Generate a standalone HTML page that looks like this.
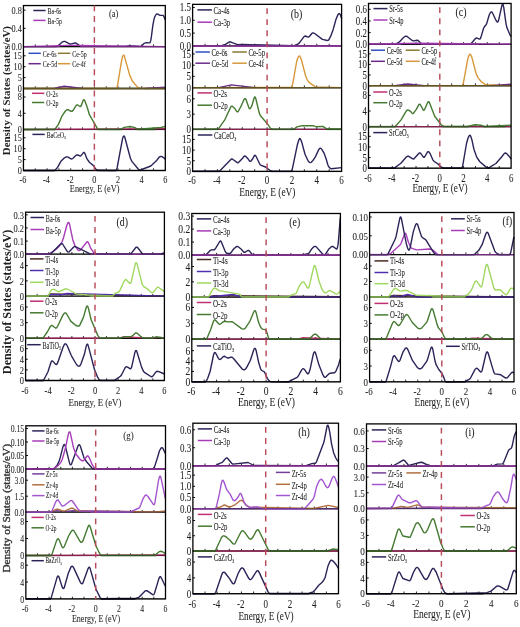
<!DOCTYPE html>
<html><head><meta charset="utf-8"><style>
html,body{margin:0;padding:0;background:#fff;}
svg{display:block;filter:blur(0.3px);}
text{font-family:"Liberation Serif", "DejaVu Serif", serif;fill:#1e1e1e;stroke:#1e1e1e;stroke-width:0.06px;}
.yt{}
.xt{}
.lg{stroke-width:0.08px;}
.xl{}
.pl{}
.yl{font-weight:bold;stroke-width:0;}
</style></head><body>
<svg xmlns="http://www.w3.org/2000/svg" width="520" height="627" viewBox="0 0 520 627">
<rect width="520" height="627" fill="#fff"/>
<line x1="23.45" y1="46.60" x2="25.65" y2="46.60" stroke="#111" stroke-width="1"/>
<text transform="translate(21.85,50.00) scale(0.8,1)" class="yt" font-size="10.3" text-anchor="end">0.0</text>
<line x1="23.45" y1="28.36" x2="25.65" y2="28.36" stroke="#111" stroke-width="1"/>
<text transform="translate(21.85,31.75) scale(0.8,1)" class="yt" font-size="10.3" text-anchor="end">0.4</text>
<line x1="23.45" y1="10.11" x2="25.65" y2="10.11" stroke="#111" stroke-width="1"/>
<text transform="translate(21.85,13.51) scale(0.8,1)" class="yt" font-size="10.3" text-anchor="end">0.8</text>
<line x1="35.27" y1="46.60" x2="35.27" y2="44.40" stroke="#111" stroke-width="0.9"/>
<line x1="47.09" y1="46.60" x2="47.09" y2="44.40" stroke="#111" stroke-width="0.9"/>
<line x1="58.91" y1="46.60" x2="58.91" y2="44.40" stroke="#111" stroke-width="0.9"/>
<line x1="70.73" y1="46.60" x2="70.73" y2="44.40" stroke="#111" stroke-width="0.9"/>
<line x1="82.55" y1="46.60" x2="82.55" y2="44.40" stroke="#111" stroke-width="0.9"/>
<line x1="94.38" y1="46.60" x2="94.38" y2="44.40" stroke="#111" stroke-width="0.9"/>
<line x1="106.20" y1="46.60" x2="106.20" y2="44.40" stroke="#111" stroke-width="0.9"/>
<line x1="118.02" y1="46.60" x2="118.02" y2="44.40" stroke="#111" stroke-width="0.9"/>
<line x1="129.84" y1="46.60" x2="129.84" y2="44.40" stroke="#111" stroke-width="0.9"/>
<line x1="141.66" y1="46.60" x2="141.66" y2="44.40" stroke="#111" stroke-width="0.9"/>
<line x1="153.48" y1="46.60" x2="153.48" y2="44.40" stroke="#111" stroke-width="0.9"/>
<line x1="23.45" y1="46.60" x2="165.30" y2="46.60" stroke="#111" stroke-width="1.2"/>
<path d="M23.4,46.6 L56.0,46.5 L58.6,45.4 L62.2,42.1 L63.9,41.4 L64.8,41.4 L69.6,43.9 L71.3,43.9 L75.2,43.0 L76.1,43.1 L80.2,46.1 L125.4,46.4 L129.5,45.7 L140.8,46.4 L141.7,46.0 L144.0,43.4 L146.4,42.6 L149.3,42.9 L149.6,42.8 L149.9,42.6 L150.2,42.2 L150.8,40.4 L151.4,36.7 L152.9,24.8 L154.1,18.8 L155.0,16.3 L156.1,14.5 L156.7,14.0 L157.3,13.9 L160.0,15.4 L162.9,15.4 L163.5,15.8 L164.1,16.9 L165.3,19.9" fill="none" stroke="#2a2458" stroke-width="1.4" stroke-linejoin="round"/>
<path d="M23.4,46.6 L68.1,45.4 L76.9,45.4 L165.3,46.6" fill="none" stroke="#a83cb8" stroke-width="1.4" stroke-linejoin="round"/>
<line x1="23.45" y1="46.60" x2="59.80" y2="46.60" stroke="#a83cb8" stroke-width="1.45"/>
<line x1="80.19" y1="46.60" x2="165.30" y2="46.60" stroke="#a83cb8" stroke-width="1.45"/>
<line x1="23.45" y1="46.60" x2="165.30" y2="46.60" stroke="#000" stroke-opacity="0.3" stroke-width="1.3"/>
<line x1="33.30" y1="10.50" x2="45.60" y2="10.50" stroke="#2a2458" stroke-width="1.5"/>
<text transform="translate(47.60,13.84) scale(0.78,1)" class="lg" font-size="7.6">Ba-6s</text>
<line x1="33.30" y1="20.40" x2="45.60" y2="20.40" stroke="#a83cb8" stroke-width="1.5"/>
<text transform="translate(47.60,23.74) scale(0.78,1)" class="lg" font-size="7.6">Ba-5p</text>
<line x1="23.45" y1="88.50" x2="25.65" y2="88.50" stroke="#111" stroke-width="1"/>
<text transform="translate(21.85,91.90) scale(0.8,1)" class="yt" font-size="10.3" text-anchor="end">0</text>
<line x1="23.45" y1="77.59" x2="25.65" y2="77.59" stroke="#111" stroke-width="1"/>
<text transform="translate(21.85,80.99) scale(0.8,1)" class="yt" font-size="10.3" text-anchor="end">5</text>
<line x1="23.45" y1="66.68" x2="25.65" y2="66.68" stroke="#111" stroke-width="1"/>
<text transform="translate(21.85,70.08) scale(0.8,1)" class="yt" font-size="10.3" text-anchor="end">10</text>
<line x1="23.45" y1="55.77" x2="25.65" y2="55.77" stroke="#111" stroke-width="1"/>
<text transform="translate(21.85,59.16) scale(0.8,1)" class="yt" font-size="10.3" text-anchor="end">15</text>
<line x1="35.27" y1="88.50" x2="35.27" y2="86.30" stroke="#111" stroke-width="0.9"/>
<line x1="47.09" y1="88.50" x2="47.09" y2="86.30" stroke="#111" stroke-width="0.9"/>
<line x1="58.91" y1="88.50" x2="58.91" y2="86.30" stroke="#111" stroke-width="0.9"/>
<line x1="70.73" y1="88.50" x2="70.73" y2="86.30" stroke="#111" stroke-width="0.9"/>
<line x1="82.55" y1="88.50" x2="82.55" y2="86.30" stroke="#111" stroke-width="0.9"/>
<line x1="94.38" y1="88.50" x2="94.38" y2="86.30" stroke="#111" stroke-width="0.9"/>
<line x1="106.20" y1="88.50" x2="106.20" y2="86.30" stroke="#111" stroke-width="0.9"/>
<line x1="118.02" y1="88.50" x2="118.02" y2="86.30" stroke="#111" stroke-width="0.9"/>
<line x1="129.84" y1="88.50" x2="129.84" y2="86.30" stroke="#111" stroke-width="0.9"/>
<line x1="141.66" y1="88.50" x2="141.66" y2="86.30" stroke="#111" stroke-width="0.9"/>
<line x1="153.48" y1="88.50" x2="153.48" y2="86.30" stroke="#111" stroke-width="0.9"/>
<line x1="23.45" y1="88.50" x2="165.30" y2="88.50" stroke="#111" stroke-width="1.2"/>
<path d="M23.4,88.5 L165.3,88.5" fill="none" stroke="#3050c0" stroke-width="1.4" stroke-linejoin="round"/>
<path d="M23.4,88.5 L115.9,88.5 L116.5,88.2 L116.8,87.8 L117.4,86.1 L121.6,60.6 L122.4,57.2 L123.0,55.7 L123.3,55.3 L123.6,55.1 L123.9,55.2 L124.2,55.6 L129.8,75.4 L132.2,80.8 L137.5,87.1 L140.5,88.4 L165.3,88.5" fill="none" stroke="#d8983a" stroke-width="1.4" stroke-linejoin="round"/>
<path d="M23.4,88.5 L165.3,88.5" fill="none" stroke="#8a7a30" stroke-width="1.4" stroke-linejoin="round"/>
<path d="M54.2,88.5 L64.2,86.3 L82.6,88.5" fill="none" stroke="#6a2a8a" stroke-width="1.4" stroke-linejoin="round"/>
<path d="M145.2,88.5 L165.3,87.2" fill="none" stroke="#6a2a8a" stroke-width="1.4" stroke-linejoin="round"/>
<line x1="23.45" y1="88.50" x2="165.30" y2="88.50" stroke="#8a7a30" stroke-width="1.45"/>
<line x1="23.45" y1="88.50" x2="165.30" y2="88.50" stroke="#000" stroke-opacity="0.3" stroke-width="1.3"/>
<line x1="28.50" y1="53.30" x2="40.80" y2="53.30" stroke="#3050c0" stroke-width="1.5"/>
<text transform="translate(42.80,56.64) scale(0.78,1)" class="lg" font-size="7.6">Ce-6s</text>
<line x1="58.00" y1="53.30" x2="70.30" y2="53.30" stroke="#8a7a30" stroke-width="1.5"/>
<text transform="translate(72.30,56.64) scale(0.78,1)" class="lg" font-size="7.6">Ce-5p</text>
<line x1="28.50" y1="63.70" x2="40.80" y2="63.70" stroke="#6a2a8a" stroke-width="1.5"/>
<text transform="translate(42.80,67.04) scale(0.78,1)" class="lg" font-size="7.6">Ce-5d</text>
<line x1="58.00" y1="63.70" x2="70.30" y2="63.70" stroke="#d8983a" stroke-width="1.5"/>
<text transform="translate(72.30,67.04) scale(0.78,1)" class="lg" font-size="7.6">Ce-4f</text>
<line x1="23.45" y1="129.50" x2="25.65" y2="129.50" stroke="#111" stroke-width="1"/>
<text transform="translate(21.85,132.90) scale(0.8,1)" class="yt" font-size="10.3" text-anchor="end">0</text>
<line x1="23.45" y1="113.26" x2="25.65" y2="113.26" stroke="#111" stroke-width="1"/>
<text transform="translate(21.85,116.66) scale(0.8,1)" class="yt" font-size="10.3" text-anchor="end">4</text>
<line x1="23.45" y1="97.02" x2="25.65" y2="97.02" stroke="#111" stroke-width="1"/>
<text transform="translate(21.85,100.42) scale(0.8,1)" class="yt" font-size="10.3" text-anchor="end">8</text>
<line x1="35.27" y1="129.50" x2="35.27" y2="127.30" stroke="#111" stroke-width="0.9"/>
<line x1="47.09" y1="129.50" x2="47.09" y2="127.30" stroke="#111" stroke-width="0.9"/>
<line x1="58.91" y1="129.50" x2="58.91" y2="127.30" stroke="#111" stroke-width="0.9"/>
<line x1="70.73" y1="129.50" x2="70.73" y2="127.30" stroke="#111" stroke-width="0.9"/>
<line x1="82.55" y1="129.50" x2="82.55" y2="127.30" stroke="#111" stroke-width="0.9"/>
<line x1="94.38" y1="129.50" x2="94.38" y2="127.30" stroke="#111" stroke-width="0.9"/>
<line x1="106.20" y1="129.50" x2="106.20" y2="127.30" stroke="#111" stroke-width="0.9"/>
<line x1="118.02" y1="129.50" x2="118.02" y2="127.30" stroke="#111" stroke-width="0.9"/>
<line x1="129.84" y1="129.50" x2="129.84" y2="127.30" stroke="#111" stroke-width="0.9"/>
<line x1="141.66" y1="129.50" x2="141.66" y2="127.30" stroke="#111" stroke-width="0.9"/>
<line x1="153.48" y1="129.50" x2="153.48" y2="127.30" stroke="#111" stroke-width="0.9"/>
<line x1="23.45" y1="129.50" x2="165.30" y2="129.50" stroke="#111" stroke-width="1.2"/>
<path d="M23.4,129.5 L165.3,128.7" fill="none" stroke="#c03070" stroke-width="1.4" stroke-linejoin="round"/>
<path d="M23.4,129.5 L54.2,129.4 L55.1,129.0 L58.3,124.6 L61.9,116.2 L65.4,111.0 L66.6,110.0 L67.5,109.7 L68.4,109.8 L71.0,111.3 L71.6,111.3 L72.2,111.2 L73.1,110.3 L76.1,105.6 L76.6,105.1 L77.2,104.9 L77.8,105.0 L79.9,106.5 L80.2,106.6 L80.5,106.5 L80.8,106.3 L81.4,105.2 L83.1,100.5 L83.4,100.1 L83.7,99.8 L84.0,99.8 L84.3,100.0 L84.9,100.9 L87.3,107.5 L89.4,114.7 L97.6,128.8 L98.2,129.3 L120.7,129.4 L124.2,127.4 L130.1,126.5 L134.9,127.6 L137.5,129.3 L161.2,127.5 L165.3,126.3" fill="none" stroke="#457a32" stroke-width="1.4" stroke-linejoin="round"/>
<line x1="23.45" y1="129.50" x2="55.07" y2="129.50" stroke="#457a32" stroke-width="1.45"/>
<line x1="97.92" y1="129.50" x2="121.86" y2="129.50" stroke="#457a32" stroke-width="1.45"/>
<line x1="136.93" y1="129.50" x2="155.25" y2="129.50" stroke="#457a32" stroke-width="1.45"/>
<line x1="23.45" y1="129.50" x2="165.30" y2="129.50" stroke="#000" stroke-opacity="0.3" stroke-width="1.3"/>
<line x1="32.00" y1="93.30" x2="44.30" y2="93.30" stroke="#c03070" stroke-width="1.5"/>
<text transform="translate(46.30,96.64) scale(0.78,1)" class="lg" font-size="7.6">O-2s</text>
<line x1="32.00" y1="102.50" x2="44.30" y2="102.50" stroke="#457a32" stroke-width="1.5"/>
<text transform="translate(46.30,105.84) scale(0.78,1)" class="lg" font-size="7.6">O-2p</text>
<line x1="23.45" y1="170.50" x2="25.65" y2="170.50" stroke="#111" stroke-width="1"/>
<text transform="translate(21.85,173.90) scale(0.8,1)" class="yt" font-size="10.3" text-anchor="end">0</text>
<line x1="23.45" y1="159.60" x2="25.65" y2="159.60" stroke="#111" stroke-width="1"/>
<text transform="translate(21.85,162.99) scale(0.8,1)" class="yt" font-size="10.3" text-anchor="end">5</text>
<line x1="23.45" y1="148.69" x2="25.65" y2="148.69" stroke="#111" stroke-width="1"/>
<text transform="translate(21.85,152.09) scale(0.8,1)" class="yt" font-size="10.3" text-anchor="end">10</text>
<line x1="23.45" y1="137.79" x2="25.65" y2="137.79" stroke="#111" stroke-width="1"/>
<text transform="translate(21.85,141.19) scale(0.8,1)" class="yt" font-size="10.3" text-anchor="end">15</text>
<line x1="35.27" y1="170.50" x2="35.27" y2="168.30" stroke="#111" stroke-width="0.9"/>
<line x1="47.09" y1="170.50" x2="47.09" y2="168.30" stroke="#111" stroke-width="0.9"/>
<line x1="58.91" y1="170.50" x2="58.91" y2="168.30" stroke="#111" stroke-width="0.9"/>
<line x1="70.73" y1="170.50" x2="70.73" y2="168.30" stroke="#111" stroke-width="0.9"/>
<line x1="82.55" y1="170.50" x2="82.55" y2="168.30" stroke="#111" stroke-width="0.9"/>
<line x1="94.38" y1="170.50" x2="94.38" y2="168.30" stroke="#111" stroke-width="0.9"/>
<line x1="106.20" y1="170.50" x2="106.20" y2="168.30" stroke="#111" stroke-width="0.9"/>
<line x1="118.02" y1="170.50" x2="118.02" y2="168.30" stroke="#111" stroke-width="0.9"/>
<line x1="129.84" y1="170.50" x2="129.84" y2="168.30" stroke="#111" stroke-width="0.9"/>
<line x1="141.66" y1="170.50" x2="141.66" y2="168.30" stroke="#111" stroke-width="0.9"/>
<line x1="153.48" y1="170.50" x2="153.48" y2="168.30" stroke="#111" stroke-width="0.9"/>
<path d="M23.4,170.5 L54.2,170.5 L55.1,170.1 L57.7,167.2 L60.7,161.6 L64.5,157.8 L66.3,156.9 L67.5,156.9 L71.0,158.9 L71.9,159.0 L72.8,158.5 L76.1,155.3 L76.9,154.9 L77.8,155.0 L79.9,155.9 L80.5,156.0 L81.1,155.7 L83.4,152.6 L83.7,152.5 L84.0,152.4 L84.3,152.6 L84.9,153.4 L87.0,158.9 L89.6,162.5 L93.2,165.4 L96.1,169.4 L97.6,170.3 L115.7,170.5 L116.2,170.1 L116.5,169.7 L117.1,168.0 L122.4,139.4 L123.0,137.2 L123.3,136.5 L123.6,136.1 L123.9,136.0 L124.2,136.2 L124.8,137.2 L130.4,158.2 L131.9,161.4 L138.4,169.3 L139.3,169.9 L140.5,170.0 L150.8,166.0 L156.1,161.1 L159.1,157.3 L160.0,156.6 L160.9,156.4 L162.3,156.7 L164.1,158.1 L165.3,159.3" fill="none" stroke="#2a2458" stroke-width="1.4" stroke-linejoin="round"/>
<line x1="23.45" y1="170.50" x2="55.37" y2="170.50" stroke="#2a2458" stroke-width="1.45"/>
<line x1="97.03" y1="170.50" x2="116.54" y2="170.50" stroke="#2a2458" stroke-width="1.45"/>
<line x1="139.89" y1="170.50" x2="140.48" y2="170.50" stroke="#2a2458" stroke-width="1.45"/>
<line x1="23.45" y1="170.50" x2="165.30" y2="170.50" stroke="#000" stroke-opacity="0.3" stroke-width="1.3"/>
<line x1="32.40" y1="134.40" x2="44.70" y2="134.40" stroke="#2a2458" stroke-width="1.5"/>
<text transform="translate(46.70,137.74) scale(0.78,1)" class="lg" font-size="7.6">BaCeO<tspan font-size="5" dy="1.5">3</tspan></text>
<rect x="23.45" y="5.55" width="141.85" height="164.95" fill="none" stroke="#000" stroke-width="1.3"/>
<line x1="94.38" y1="5.55" x2="94.38" y2="170.50" stroke="#b84c5a" stroke-width="1.45" stroke-dasharray="6.0 4.65" stroke-dashoffset="0.20"/>
<text transform="translate(22.85,182.60) scale(0.8,1)" class="xt" font-size="10.3" text-anchor="middle">-6</text>
<text transform="translate(46.49,182.60) scale(0.8,1)" class="xt" font-size="10.3" text-anchor="middle">-4</text>
<text transform="translate(70.13,182.60) scale(0.8,1)" class="xt" font-size="10.3" text-anchor="middle">-2</text>
<text transform="translate(94.38,182.60) scale(0.8,1)" class="xt" font-size="10.3" text-anchor="middle">0</text>
<text transform="translate(118.02,182.60) scale(0.8,1)" class="xt" font-size="10.3" text-anchor="middle">2</text>
<text transform="translate(141.66,182.60) scale(0.8,1)" class="xt" font-size="10.3" text-anchor="middle">4</text>
<text transform="translate(165.30,182.60) scale(0.8,1)" class="xt" font-size="10.3" text-anchor="middle">6</text>
<text transform="translate(94.65,191.90) scale(0.78,1)" class="xl" font-size="10.6" text-anchor="middle">Energy, E (eV)</text>
<text transform="translate(113.70,17.00) scale(0.8,1)" class="pl" font-size="10.5" text-anchor="middle">(a)</text>
<text x="0" y="0" class="yl" font-size="10.9" text-anchor="middle" transform="translate(10.40,90.60) rotate(-90)">Density of States (states/eV)</text>
<line x1="192.60" y1="45.90" x2="194.80" y2="45.90" stroke="#111" stroke-width="1"/>
<text transform="translate(191.00,49.93) scale(0.74,1)" class="yt" font-size="12.2" text-anchor="end">0.0</text>
<line x1="192.60" y1="33.08" x2="194.80" y2="33.08" stroke="#111" stroke-width="1"/>
<text transform="translate(191.00,37.10) scale(0.74,1)" class="yt" font-size="12.2" text-anchor="end">0.5</text>
<line x1="192.60" y1="20.25" x2="194.80" y2="20.25" stroke="#111" stroke-width="1"/>
<text transform="translate(191.00,24.28) scale(0.74,1)" class="yt" font-size="12.2" text-anchor="end">1.0</text>
<line x1="192.60" y1="7.43" x2="194.80" y2="7.43" stroke="#111" stroke-width="1"/>
<text transform="translate(191.00,11.45) scale(0.74,1)" class="yt" font-size="12.2" text-anchor="end">1.5</text>
<line x1="205.02" y1="45.90" x2="205.02" y2="43.70" stroke="#111" stroke-width="0.9"/>
<line x1="217.43" y1="45.90" x2="217.43" y2="43.70" stroke="#111" stroke-width="0.9"/>
<line x1="229.85" y1="45.90" x2="229.85" y2="43.70" stroke="#111" stroke-width="0.9"/>
<line x1="242.27" y1="45.90" x2="242.27" y2="43.70" stroke="#111" stroke-width="0.9"/>
<line x1="254.68" y1="45.90" x2="254.68" y2="43.70" stroke="#111" stroke-width="0.9"/>
<line x1="267.10" y1="45.90" x2="267.10" y2="43.70" stroke="#111" stroke-width="0.9"/>
<line x1="279.52" y1="45.90" x2="279.52" y2="43.70" stroke="#111" stroke-width="0.9"/>
<line x1="291.93" y1="45.90" x2="291.93" y2="43.70" stroke="#111" stroke-width="0.9"/>
<line x1="304.35" y1="45.90" x2="304.35" y2="43.70" stroke="#111" stroke-width="0.9"/>
<line x1="316.77" y1="45.90" x2="316.77" y2="43.70" stroke="#111" stroke-width="0.9"/>
<line x1="329.18" y1="45.90" x2="329.18" y2="43.70" stroke="#111" stroke-width="0.9"/>
<line x1="192.60" y1="45.90" x2="341.60" y2="45.90" stroke="#111" stroke-width="1.2"/>
<path d="M192.6,45.9 L221.5,45.7 L225.5,44.3 L228.9,42.1 L230.2,41.8 L237.6,44.6 L242.3,44.5 L293.5,45.8 L297.8,44.1 L299.4,42.9 L304.0,36.7 L304.7,36.2 L305.3,36.0 L308.1,37.1 L308.7,37.0 L309.6,36.2 L311.8,33.5 L312.4,33.0 L313.0,32.9 L314.3,33.3 L322.4,39.4 L327.3,40.5 L327.9,40.4 L328.6,40.1 L330.7,36.2 L333.2,29.4 L336.0,19.3 L337.9,14.9 L338.5,14.0 L338.8,13.7 L339.1,13.6 L339.4,13.6 L339.7,13.9 L340.4,14.8 L341.6,18.5" fill="none" stroke="#2a2458" stroke-width="1.4" stroke-linejoin="round"/>
<path d="M192.6,45.9 L341.6,45.9" fill="none" stroke="#a83cb8" stroke-width="1.4" stroke-linejoin="round"/>
<line x1="192.60" y1="45.90" x2="226.13" y2="45.90" stroke="#a83cb8" stroke-width="1.45"/>
<line x1="235.44" y1="45.90" x2="341.60" y2="45.90" stroke="#a83cb8" stroke-width="1.45"/>
<line x1="192.60" y1="45.90" x2="341.60" y2="45.90" stroke="#000" stroke-opacity="0.3" stroke-width="1.3"/>
<line x1="197.40" y1="9.90" x2="211.90" y2="9.90" stroke="#2a2458" stroke-width="1.5"/>
<text transform="translate(213.50,14.02) scale(0.65,1)" class="lg" font-size="10.6">Ca-4s</text>
<line x1="197.40" y1="22.20" x2="211.90" y2="22.20" stroke="#a83cb8" stroke-width="1.5"/>
<text transform="translate(213.50,26.32) scale(0.65,1)" class="lg" font-size="10.6">Ca-3p</text>
<line x1="192.60" y1="87.60" x2="194.80" y2="87.60" stroke="#111" stroke-width="1"/>
<text transform="translate(191.00,91.63) scale(0.74,1)" class="yt" font-size="12.2" text-anchor="end">0</text>
<line x1="192.60" y1="76.39" x2="194.80" y2="76.39" stroke="#111" stroke-width="1"/>
<text transform="translate(191.00,80.42) scale(0.74,1)" class="yt" font-size="12.2" text-anchor="end">5</text>
<line x1="192.60" y1="65.18" x2="194.80" y2="65.18" stroke="#111" stroke-width="1"/>
<text transform="translate(191.00,69.21) scale(0.74,1)" class="yt" font-size="12.2" text-anchor="end">10</text>
<line x1="192.60" y1="53.97" x2="194.80" y2="53.97" stroke="#111" stroke-width="1"/>
<text transform="translate(191.00,58.00) scale(0.74,1)" class="yt" font-size="12.2" text-anchor="end">15</text>
<line x1="205.02" y1="87.60" x2="205.02" y2="85.40" stroke="#111" stroke-width="0.9"/>
<line x1="217.43" y1="87.60" x2="217.43" y2="85.40" stroke="#111" stroke-width="0.9"/>
<line x1="229.85" y1="87.60" x2="229.85" y2="85.40" stroke="#111" stroke-width="0.9"/>
<line x1="242.27" y1="87.60" x2="242.27" y2="85.40" stroke="#111" stroke-width="0.9"/>
<line x1="254.68" y1="87.60" x2="254.68" y2="85.40" stroke="#111" stroke-width="0.9"/>
<line x1="267.10" y1="87.60" x2="267.10" y2="85.40" stroke="#111" stroke-width="0.9"/>
<line x1="279.52" y1="87.60" x2="279.52" y2="85.40" stroke="#111" stroke-width="0.9"/>
<line x1="291.93" y1="87.60" x2="291.93" y2="85.40" stroke="#111" stroke-width="0.9"/>
<line x1="304.35" y1="87.60" x2="304.35" y2="85.40" stroke="#111" stroke-width="0.9"/>
<line x1="316.77" y1="87.60" x2="316.77" y2="85.40" stroke="#111" stroke-width="0.9"/>
<line x1="329.18" y1="87.60" x2="329.18" y2="85.40" stroke="#111" stroke-width="0.9"/>
<line x1="192.60" y1="87.60" x2="341.60" y2="87.60" stroke="#111" stroke-width="1.2"/>
<path d="M192.6,87.6 L341.6,87.6" fill="none" stroke="#3050c0" stroke-width="1.4" stroke-linejoin="round"/>
<path d="M192.6,87.6 L291.0,87.5 L291.3,87.4 L291.6,87.1 L291.9,86.5 L292.6,84.4 L296.6,62.0 L297.5,58.7 L298.5,56.6 L299.1,55.9 L299.4,55.9 L299.7,56.0 L300.3,57.0 L301.6,60.5 L305.6,75.9 L307.1,79.6 L309.3,82.6 L315.5,86.9 L341.6,87.6" fill="none" stroke="#d8983a" stroke-width="1.4" stroke-linejoin="round"/>
<path d="M192.6,87.6 L341.6,87.6" fill="none" stroke="#8a7a30" stroke-width="1.4" stroke-linejoin="round"/>
<path d="M218.7,87.6 L231.4,84.9 L254.7,87.6" fill="none" stroke="#6a2a8a" stroke-width="1.4" stroke-linejoin="round"/>
<line x1="192.60" y1="87.60" x2="341.60" y2="87.60" stroke="#8a7a30" stroke-width="1.45"/>
<line x1="192.60" y1="87.60" x2="341.60" y2="87.60" stroke="#000" stroke-opacity="0.3" stroke-width="1.3"/>
<line x1="195.40" y1="52.00" x2="209.90" y2="52.00" stroke="#3050c0" stroke-width="1.5"/>
<text transform="translate(211.50,56.12) scale(0.65,1)" class="lg" font-size="10.6">Ce-6s</text>
<line x1="232.30" y1="52.00" x2="246.80" y2="52.00" stroke="#8a7a30" stroke-width="1.5"/>
<text transform="translate(248.40,56.12) scale(0.65,1)" class="lg" font-size="10.6">Ce-5p</text>
<line x1="195.40" y1="63.20" x2="209.90" y2="63.20" stroke="#6a2a8a" stroke-width="1.5"/>
<text transform="translate(211.50,67.32) scale(0.65,1)" class="lg" font-size="10.6">Ce-5d</text>
<line x1="232.30" y1="63.20" x2="246.80" y2="63.20" stroke="#d8983a" stroke-width="1.5"/>
<text transform="translate(248.40,67.32) scale(0.65,1)" class="lg" font-size="10.6">Ce-4f</text>
<line x1="192.60" y1="129.40" x2="194.80" y2="129.40" stroke="#111" stroke-width="1"/>
<text transform="translate(191.00,133.43) scale(0.74,1)" class="yt" font-size="12.2" text-anchor="end">0</text>
<line x1="192.60" y1="114.11" x2="194.80" y2="114.11" stroke="#111" stroke-width="1"/>
<text transform="translate(191.00,118.13) scale(0.74,1)" class="yt" font-size="12.2" text-anchor="end">3</text>
<line x1="192.60" y1="98.81" x2="194.80" y2="98.81" stroke="#111" stroke-width="1"/>
<text transform="translate(191.00,102.84) scale(0.74,1)" class="yt" font-size="12.2" text-anchor="end">6</text>
<line x1="205.02" y1="129.40" x2="205.02" y2="127.20" stroke="#111" stroke-width="0.9"/>
<line x1="217.43" y1="129.40" x2="217.43" y2="127.20" stroke="#111" stroke-width="0.9"/>
<line x1="229.85" y1="129.40" x2="229.85" y2="127.20" stroke="#111" stroke-width="0.9"/>
<line x1="242.27" y1="129.40" x2="242.27" y2="127.20" stroke="#111" stroke-width="0.9"/>
<line x1="254.68" y1="129.40" x2="254.68" y2="127.20" stroke="#111" stroke-width="0.9"/>
<line x1="267.10" y1="129.40" x2="267.10" y2="127.20" stroke="#111" stroke-width="0.9"/>
<line x1="279.52" y1="129.40" x2="279.52" y2="127.20" stroke="#111" stroke-width="0.9"/>
<line x1="291.93" y1="129.40" x2="291.93" y2="127.20" stroke="#111" stroke-width="0.9"/>
<line x1="304.35" y1="129.40" x2="304.35" y2="127.20" stroke="#111" stroke-width="0.9"/>
<line x1="316.77" y1="129.40" x2="316.77" y2="127.20" stroke="#111" stroke-width="0.9"/>
<line x1="329.18" y1="129.40" x2="329.18" y2="127.20" stroke="#111" stroke-width="0.9"/>
<line x1="192.60" y1="129.40" x2="341.60" y2="129.40" stroke="#111" stroke-width="1.2"/>
<path d="M192.6,129.4 L341.6,129.4" fill="none" stroke="#c03070" stroke-width="1.4" stroke-linejoin="round"/>
<path d="M192.6,129.4 L217.4,129.3 L218.4,128.9 L224.6,120.2 L230.8,106.9 L231.4,106.3 L231.7,106.1 L232.3,106.2 L234.5,108.2 L236.7,111.4 L237.3,111.8 L237.6,111.8 L238.2,111.5 L241.6,105.1 L243.8,99.9 L244.4,98.9 L244.8,98.7 L245.1,98.6 L245.4,98.7 L246.0,99.5 L248.8,107.6 L249.4,108.6 L249.7,108.7 L250.0,108.7 L250.6,108.0 L251.9,105.6 L254.1,98.0 L254.4,97.3 L254.7,96.9 L255.0,96.9 L255.3,97.3 L255.9,99.0 L259.3,113.1 L260.3,115.5 L268.0,124.6 L270.2,127.9 L271.1,128.8 L273.3,129.4 L293.2,129.4 L294.1,129.0 L296.9,126.9 L302.2,125.6 L313.0,125.7 L316.5,126.8 L322.7,126.4 L323.9,127.0 L326.4,128.7 L341.6,128.9" fill="none" stroke="#457a32" stroke-width="1.4" stroke-linejoin="round"/>
<line x1="192.60" y1="129.40" x2="218.68" y2="129.40" stroke="#457a32" stroke-width="1.45"/>
<line x1="271.45" y1="129.40" x2="294.42" y2="129.40" stroke="#457a32" stroke-width="1.45"/>
<line x1="327.01" y1="129.40" x2="341.60" y2="129.40" stroke="#457a32" stroke-width="1.45"/>
<line x1="192.60" y1="129.40" x2="341.60" y2="129.40" stroke="#000" stroke-opacity="0.3" stroke-width="1.3"/>
<line x1="197.40" y1="92.90" x2="211.90" y2="92.90" stroke="#c03070" stroke-width="1.5"/>
<text transform="translate(213.50,97.02) scale(0.65,1)" class="lg" font-size="10.6">O-2s</text>
<line x1="197.40" y1="105.20" x2="211.90" y2="105.20" stroke="#457a32" stroke-width="1.5"/>
<text transform="translate(213.50,109.32) scale(0.65,1)" class="lg" font-size="10.6">O-2p</text>
<line x1="192.60" y1="171.40" x2="194.80" y2="171.40" stroke="#111" stroke-width="1"/>
<text transform="translate(191.00,175.43) scale(0.74,1)" class="yt" font-size="12.2" text-anchor="end">0</text>
<line x1="192.60" y1="160.74" x2="194.80" y2="160.74" stroke="#111" stroke-width="1"/>
<text transform="translate(191.00,164.77) scale(0.74,1)" class="yt" font-size="12.2" text-anchor="end">5</text>
<line x1="192.60" y1="150.08" x2="194.80" y2="150.08" stroke="#111" stroke-width="1"/>
<text transform="translate(191.00,154.11) scale(0.74,1)" class="yt" font-size="12.2" text-anchor="end">10</text>
<line x1="192.60" y1="139.42" x2="194.80" y2="139.42" stroke="#111" stroke-width="1"/>
<text transform="translate(191.00,143.45) scale(0.74,1)" class="yt" font-size="12.2" text-anchor="end">15</text>
<line x1="205.02" y1="171.40" x2="205.02" y2="169.20" stroke="#111" stroke-width="0.9"/>
<line x1="217.43" y1="171.40" x2="217.43" y2="169.20" stroke="#111" stroke-width="0.9"/>
<line x1="229.85" y1="171.40" x2="229.85" y2="169.20" stroke="#111" stroke-width="0.9"/>
<line x1="242.27" y1="171.40" x2="242.27" y2="169.20" stroke="#111" stroke-width="0.9"/>
<line x1="254.68" y1="171.40" x2="254.68" y2="169.20" stroke="#111" stroke-width="0.9"/>
<line x1="267.10" y1="171.40" x2="267.10" y2="169.20" stroke="#111" stroke-width="0.9"/>
<line x1="279.52" y1="171.40" x2="279.52" y2="169.20" stroke="#111" stroke-width="0.9"/>
<line x1="291.93" y1="171.40" x2="291.93" y2="169.20" stroke="#111" stroke-width="0.9"/>
<line x1="304.35" y1="171.40" x2="304.35" y2="169.20" stroke="#111" stroke-width="0.9"/>
<line x1="316.77" y1="171.40" x2="316.77" y2="169.20" stroke="#111" stroke-width="0.9"/>
<line x1="329.18" y1="171.40" x2="329.18" y2="169.20" stroke="#111" stroke-width="0.9"/>
<path d="M192.6,171.4 L218.7,171.3 L220.2,170.5 L231.1,159.2 L231.7,158.9 L232.3,159.0 L237.3,162.6 L237.9,162.8 L238.5,162.6 L242.6,158.2 L244.1,156.3 L244.8,156.0 L245.4,156.1 L247.9,158.7 L249.4,160.9 L250.0,161.3 L250.3,161.4 L251.0,161.1 L252.8,158.5 L254.4,155.6 L254.7,155.3 L255.0,155.3 L255.3,155.4 L256.2,156.7 L260.0,164.5 L260.6,165.1 L265.5,167.0 L270.8,171.0 L272.4,171.4 L291.0,171.3 L291.3,171.2 L291.6,171.0 L292.2,169.7 L297.5,144.2 L298.8,140.0 L299.4,138.8 L299.7,138.5 L300.0,138.6 L300.3,138.9 L301.6,141.6 L305.0,154.2 L307.8,160.3 L309.0,162.0 L309.6,162.4 L310.2,162.6 L311.2,162.3 L313.0,160.4 L315.2,157.1 L318.6,149.9 L319.6,148.5 L320.2,148.1 L320.8,148.3 L322.0,149.6 L323.9,152.8 L326.1,158.7 L327.9,165.0 L328.9,166.9 L330.4,168.4 L331.4,168.8 L341.6,167.6" fill="none" stroke="#2a2458" stroke-width="1.4" stroke-linejoin="round"/>
<line x1="192.60" y1="171.40" x2="219.92" y2="171.40" stroke="#2a2458" stroke-width="1.45"/>
<line x1="270.83" y1="171.40" x2="291.93" y2="171.40" stroke="#2a2458" stroke-width="1.45"/>
<line x1="192.60" y1="171.40" x2="341.60" y2="171.40" stroke="#000" stroke-opacity="0.3" stroke-width="1.3"/>
<line x1="197.80" y1="135.00" x2="212.30" y2="135.00" stroke="#2a2458" stroke-width="1.5"/>
<text transform="translate(213.90,139.12) scale(0.65,1)" class="lg" font-size="10.6">CaCeO<tspan font-size="6" dy="1.8">3</tspan></text>
<rect x="192.60" y="4.35" width="149.00" height="167.05" fill="none" stroke="#000" stroke-width="1.3"/>
<line x1="267.10" y1="4.35" x2="267.10" y2="171.40" stroke="#b84c5a" stroke-width="1.45" stroke-dasharray="5.8 5.3" stroke-dashoffset="7.30"/>
<text transform="translate(192.00,184.30) scale(0.74,1)" class="xt" font-size="12.2" text-anchor="middle">-6</text>
<text transform="translate(216.83,184.30) scale(0.74,1)" class="xt" font-size="12.2" text-anchor="middle">-4</text>
<text transform="translate(241.67,184.30) scale(0.74,1)" class="xt" font-size="12.2" text-anchor="middle">-2</text>
<text transform="translate(267.10,184.30) scale(0.74,1)" class="xt" font-size="12.2" text-anchor="middle">0</text>
<text transform="translate(291.93,184.30) scale(0.74,1)" class="xt" font-size="12.2" text-anchor="middle">2</text>
<text transform="translate(316.77,184.30) scale(0.74,1)" class="xt" font-size="12.2" text-anchor="middle">4</text>
<text transform="translate(341.60,184.30) scale(0.74,1)" class="xt" font-size="12.2" text-anchor="middle">6</text>
<text transform="translate(267.40,195.60) scale(0.78,1)" class="xl" font-size="12" text-anchor="middle">Energy, E (eV)</text>
<text transform="translate(296.50,18.20) scale(0.8,1)" class="pl" font-size="12.5" text-anchor="middle">(b)</text>
<line x1="368.50" y1="44.30" x2="370.70" y2="44.30" stroke="#111" stroke-width="1"/>
<text transform="translate(366.90,48.26) scale(0.74,1)" class="yt" font-size="12.0" text-anchor="end">0.0</text>
<line x1="368.50" y1="32.63" x2="370.70" y2="32.63" stroke="#111" stroke-width="1"/>
<text transform="translate(366.90,36.59) scale(0.74,1)" class="yt" font-size="12.0" text-anchor="end">0.2</text>
<line x1="368.50" y1="20.96" x2="370.70" y2="20.96" stroke="#111" stroke-width="1"/>
<text transform="translate(366.90,24.92) scale(0.74,1)" class="yt" font-size="12.0" text-anchor="end">0.4</text>
<line x1="368.50" y1="9.29" x2="370.70" y2="9.29" stroke="#111" stroke-width="1"/>
<text transform="translate(366.90,13.25) scale(0.74,1)" class="yt" font-size="12.0" text-anchor="end">0.6</text>
<line x1="380.38" y1="44.30" x2="380.38" y2="42.10" stroke="#111" stroke-width="0.9"/>
<line x1="392.27" y1="44.30" x2="392.27" y2="42.10" stroke="#111" stroke-width="0.9"/>
<line x1="404.15" y1="44.30" x2="404.15" y2="42.10" stroke="#111" stroke-width="0.9"/>
<line x1="416.03" y1="44.30" x2="416.03" y2="42.10" stroke="#111" stroke-width="0.9"/>
<line x1="427.92" y1="44.30" x2="427.92" y2="42.10" stroke="#111" stroke-width="0.9"/>
<line x1="439.80" y1="44.30" x2="439.80" y2="42.10" stroke="#111" stroke-width="0.9"/>
<line x1="451.68" y1="44.30" x2="451.68" y2="42.10" stroke="#111" stroke-width="0.9"/>
<line x1="463.57" y1="44.30" x2="463.57" y2="42.10" stroke="#111" stroke-width="0.9"/>
<line x1="475.45" y1="44.30" x2="475.45" y2="42.10" stroke="#111" stroke-width="0.9"/>
<line x1="487.33" y1="44.30" x2="487.33" y2="42.10" stroke="#111" stroke-width="0.9"/>
<line x1="499.22" y1="44.30" x2="499.22" y2="42.10" stroke="#111" stroke-width="0.9"/>
<line x1="368.50" y1="44.30" x2="511.10" y2="44.30" stroke="#111" stroke-width="1.2"/>
<path d="M368.5,44.3 L395.8,44.2 L399.4,41.9 L403.3,37.7 L405.3,36.3 L406.2,36.2 L407.1,36.5 L412.2,40.5 L413.4,40.9 L417.2,40.3 L418.1,40.5 L421.7,43.9 L422.6,44.3 L470.1,44.2 L471.0,43.8 L475.7,38.3 L476.3,38.0 L477.2,38.1 L479.3,39.1 L479.9,39.0 L480.2,38.7 L480.8,37.6 L483.5,28.5 L484.4,26.8 L486.1,24.7 L486.7,23.6 L489.1,15.3 L490.3,12.8 L490.9,12.1 L491.2,11.9 L491.5,11.9 L491.8,12.0 L492.4,12.7 L496.2,20.8 L497.1,21.9 L497.4,22.1 L497.7,22.1 L498.0,21.8 L498.6,20.3 L501.9,5.5 L502.2,4.7 L502.5,4.2 L502.8,4.2 L503.1,4.7 L503.7,7.1 L506.0,23.6 L506.9,27.6 L509.9,34.8 L510.8,36.2 L511.1,36.4" fill="none" stroke="#2a2458" stroke-width="1.4" stroke-linejoin="round"/>
<path d="M368.5,44.3 L418.4,43.3 L511.1,44.3" fill="none" stroke="#a83cb8" stroke-width="1.4" stroke-linejoin="round"/>
<line x1="368.50" y1="44.30" x2="401.18" y2="44.30" stroke="#a83cb8" stroke-width="1.45"/>
<line x1="420.79" y1="44.30" x2="478.42" y2="44.30" stroke="#a83cb8" stroke-width="1.45"/>
<line x1="503.38" y1="44.30" x2="511.10" y2="44.30" stroke="#a83cb8" stroke-width="1.45"/>
<line x1="368.50" y1="44.30" x2="511.10" y2="44.30" stroke="#000" stroke-opacity="0.3" stroke-width="1.3"/>
<line x1="373.50" y1="8.60" x2="387.50" y2="8.60" stroke="#2a2458" stroke-width="1.5"/>
<text transform="translate(389.30,12.49) scale(0.66,1)" class="lg" font-size="9.8">Sr-5s</text>
<line x1="373.50" y1="20.00" x2="387.50" y2="20.00" stroke="#a83cb8" stroke-width="1.5"/>
<text transform="translate(389.30,23.89) scale(0.66,1)" class="lg" font-size="9.8">Sr-4p</text>
<line x1="368.50" y1="85.60" x2="370.70" y2="85.60" stroke="#111" stroke-width="1"/>
<text transform="translate(366.90,89.56) scale(0.74,1)" class="yt" font-size="12.0" text-anchor="end">0</text>
<line x1="368.50" y1="75.01" x2="370.70" y2="75.01" stroke="#111" stroke-width="1"/>
<text transform="translate(366.90,78.97) scale(0.74,1)" class="yt" font-size="12.0" text-anchor="end">5</text>
<line x1="368.50" y1="64.42" x2="370.70" y2="64.42" stroke="#111" stroke-width="1"/>
<text transform="translate(366.90,68.38) scale(0.74,1)" class="yt" font-size="12.0" text-anchor="end">10</text>
<line x1="368.50" y1="53.83" x2="370.70" y2="53.83" stroke="#111" stroke-width="1"/>
<text transform="translate(366.90,57.79) scale(0.74,1)" class="yt" font-size="12.0" text-anchor="end">15</text>
<line x1="380.38" y1="85.60" x2="380.38" y2="83.40" stroke="#111" stroke-width="0.9"/>
<line x1="392.27" y1="85.60" x2="392.27" y2="83.40" stroke="#111" stroke-width="0.9"/>
<line x1="404.15" y1="85.60" x2="404.15" y2="83.40" stroke="#111" stroke-width="0.9"/>
<line x1="416.03" y1="85.60" x2="416.03" y2="83.40" stroke="#111" stroke-width="0.9"/>
<line x1="427.92" y1="85.60" x2="427.92" y2="83.40" stroke="#111" stroke-width="0.9"/>
<line x1="439.80" y1="85.60" x2="439.80" y2="83.40" stroke="#111" stroke-width="0.9"/>
<line x1="451.68" y1="85.60" x2="451.68" y2="83.40" stroke="#111" stroke-width="0.9"/>
<line x1="463.57" y1="85.60" x2="463.57" y2="83.40" stroke="#111" stroke-width="0.9"/>
<line x1="475.45" y1="85.60" x2="475.45" y2="83.40" stroke="#111" stroke-width="0.9"/>
<line x1="487.33" y1="85.60" x2="487.33" y2="83.40" stroke="#111" stroke-width="0.9"/>
<line x1="499.22" y1="85.60" x2="499.22" y2="83.40" stroke="#111" stroke-width="0.9"/>
<line x1="368.50" y1="85.60" x2="511.10" y2="85.60" stroke="#111" stroke-width="1.2"/>
<path d="M368.5,85.6 L511.1,85.6" fill="none" stroke="#3050c0" stroke-width="1.4" stroke-linejoin="round"/>
<path d="M368.5,85.6 L461.8,85.6 L462.4,85.3 L462.7,84.9 L463.3,83.3 L467.7,59.3 L468.6,56.4 L469.5,54.5 L469.8,54.2 L470.1,54.2 L470.4,54.3 L471.0,55.2 L472.2,58.6 L476.0,73.3 L477.8,77.4 L481.1,81.5 L485.3,84.6 L511.1,85.6" fill="none" stroke="#d8983a" stroke-width="1.4" stroke-linejoin="round"/>
<path d="M368.5,85.6 L511.1,85.6" fill="none" stroke="#8a7a30" stroke-width="1.4" stroke-linejoin="round"/>
<path d="M394.6,85.6 L407.7,84.0 L424.4,85.6" fill="none" stroke="#6a2a8a" stroke-width="1.4" stroke-linejoin="round"/>
<path d="M490.9,85.6 L511.1,84.3" fill="none" stroke="#6a2a8a" stroke-width="1.4" stroke-linejoin="round"/>
<line x1="368.50" y1="85.60" x2="511.10" y2="85.60" stroke="#8a7a30" stroke-width="1.45"/>
<line x1="368.50" y1="85.60" x2="511.10" y2="85.60" stroke="#000" stroke-opacity="0.3" stroke-width="1.3"/>
<line x1="371.00" y1="50.20" x2="385.00" y2="50.20" stroke="#3050c0" stroke-width="1.5"/>
<text transform="translate(386.80,54.09) scale(0.66,1)" class="lg" font-size="9.8">Ce-6s</text>
<line x1="405.70" y1="50.20" x2="419.70" y2="50.20" stroke="#8a7a30" stroke-width="1.5"/>
<text transform="translate(421.50,54.09) scale(0.66,1)" class="lg" font-size="9.8">Ce-5p</text>
<line x1="371.00" y1="61.30" x2="385.00" y2="61.30" stroke="#6a2a8a" stroke-width="1.5"/>
<text transform="translate(386.80,65.19) scale(0.66,1)" class="lg" font-size="9.8">Ce-5d</text>
<line x1="405.70" y1="61.30" x2="419.70" y2="61.30" stroke="#d8983a" stroke-width="1.5"/>
<text transform="translate(421.50,65.19) scale(0.66,1)" class="lg" font-size="9.8">Ce-4f</text>
<line x1="368.50" y1="126.60" x2="370.70" y2="126.60" stroke="#111" stroke-width="1"/>
<text transform="translate(366.90,130.56) scale(0.74,1)" class="yt" font-size="12.0" text-anchor="end">0</text>
<line x1="368.50" y1="110.98" x2="370.70" y2="110.98" stroke="#111" stroke-width="1"/>
<text transform="translate(366.90,114.94) scale(0.74,1)" class="yt" font-size="12.0" text-anchor="end">4</text>
<line x1="368.50" y1="95.36" x2="370.70" y2="95.36" stroke="#111" stroke-width="1"/>
<text transform="translate(366.90,99.32) scale(0.74,1)" class="yt" font-size="12.0" text-anchor="end">8</text>
<line x1="380.38" y1="126.60" x2="380.38" y2="124.40" stroke="#111" stroke-width="0.9"/>
<line x1="392.27" y1="126.60" x2="392.27" y2="124.40" stroke="#111" stroke-width="0.9"/>
<line x1="404.15" y1="126.60" x2="404.15" y2="124.40" stroke="#111" stroke-width="0.9"/>
<line x1="416.03" y1="126.60" x2="416.03" y2="124.40" stroke="#111" stroke-width="0.9"/>
<line x1="427.92" y1="126.60" x2="427.92" y2="124.40" stroke="#111" stroke-width="0.9"/>
<line x1="439.80" y1="126.60" x2="439.80" y2="124.40" stroke="#111" stroke-width="0.9"/>
<line x1="451.68" y1="126.60" x2="451.68" y2="124.40" stroke="#111" stroke-width="0.9"/>
<line x1="463.57" y1="126.60" x2="463.57" y2="124.40" stroke="#111" stroke-width="0.9"/>
<line x1="475.45" y1="126.60" x2="475.45" y2="124.40" stroke="#111" stroke-width="0.9"/>
<line x1="487.33" y1="126.60" x2="487.33" y2="124.40" stroke="#111" stroke-width="0.9"/>
<line x1="499.22" y1="126.60" x2="499.22" y2="124.40" stroke="#111" stroke-width="0.9"/>
<line x1="368.50" y1="126.60" x2="511.10" y2="126.60" stroke="#111" stroke-width="1.2"/>
<path d="M368.5,126.6 L511.1,126.6" fill="none" stroke="#c03070" stroke-width="1.4" stroke-linejoin="round"/>
<path d="M368.5,126.6 L394.6,126.6 L395.5,126.2 L400.9,120.1 L406.2,111.2 L407.1,110.2 L407.7,109.9 L408.6,110.1 L410.4,111.3 L412.2,113.3 L412.8,113.6 L413.4,113.4 L416.3,109.3 L418.7,104.8 L419.3,104.2 L419.6,104.2 L419.9,104.3 L420.5,105.0 L423.2,109.9 L423.5,110.2 L423.8,110.3 L424.1,110.2 L424.6,109.5 L427.9,102.0 L428.2,101.7 L428.5,101.6 L428.8,101.7 L429.4,102.6 L434.7,116.2 L441.6,125.2 L443.7,126.4 L467.1,126.5 L475.2,124.7 L480.8,125.2 L484.4,126.5 L511.1,125.1" fill="none" stroke="#457a32" stroke-width="1.4" stroke-linejoin="round"/>
<line x1="368.50" y1="126.60" x2="395.83" y2="126.60" stroke="#457a32" stroke-width="1.45"/>
<line x1="443.07" y1="126.60" x2="468.62" y2="126.60" stroke="#457a32" stroke-width="1.45"/>
<line x1="483.17" y1="126.60" x2="505.16" y2="126.60" stroke="#457a32" stroke-width="1.45"/>
<line x1="368.50" y1="126.60" x2="511.10" y2="126.60" stroke="#000" stroke-opacity="0.3" stroke-width="1.3"/>
<line x1="373.30" y1="92.00" x2="387.30" y2="92.00" stroke="#c03070" stroke-width="1.5"/>
<text transform="translate(389.10,95.89) scale(0.66,1)" class="lg" font-size="9.8">O-2s</text>
<line x1="373.30" y1="102.70" x2="387.30" y2="102.70" stroke="#457a32" stroke-width="1.5"/>
<text transform="translate(389.10,106.59) scale(0.66,1)" class="lg" font-size="9.8">O-2p</text>
<line x1="368.50" y1="168.20" x2="370.70" y2="168.20" stroke="#111" stroke-width="1"/>
<text transform="translate(366.90,172.16) scale(0.74,1)" class="yt" font-size="12.0" text-anchor="end">0</text>
<line x1="368.50" y1="157.59" x2="370.70" y2="157.59" stroke="#111" stroke-width="1"/>
<text transform="translate(366.90,161.55) scale(0.74,1)" class="yt" font-size="12.0" text-anchor="end">5</text>
<line x1="368.50" y1="146.98" x2="370.70" y2="146.98" stroke="#111" stroke-width="1"/>
<text transform="translate(366.90,150.94) scale(0.74,1)" class="yt" font-size="12.0" text-anchor="end">10</text>
<line x1="368.50" y1="136.36" x2="370.70" y2="136.36" stroke="#111" stroke-width="1"/>
<text transform="translate(366.90,140.32) scale(0.74,1)" class="yt" font-size="12.0" text-anchor="end">15</text>
<line x1="380.38" y1="168.20" x2="380.38" y2="166.00" stroke="#111" stroke-width="0.9"/>
<line x1="392.27" y1="168.20" x2="392.27" y2="166.00" stroke="#111" stroke-width="0.9"/>
<line x1="404.15" y1="168.20" x2="404.15" y2="166.00" stroke="#111" stroke-width="0.9"/>
<line x1="416.03" y1="168.20" x2="416.03" y2="166.00" stroke="#111" stroke-width="0.9"/>
<line x1="427.92" y1="168.20" x2="427.92" y2="166.00" stroke="#111" stroke-width="0.9"/>
<line x1="439.80" y1="168.20" x2="439.80" y2="166.00" stroke="#111" stroke-width="0.9"/>
<line x1="451.68" y1="168.20" x2="451.68" y2="166.00" stroke="#111" stroke-width="0.9"/>
<line x1="463.57" y1="168.20" x2="463.57" y2="166.00" stroke="#111" stroke-width="0.9"/>
<line x1="475.45" y1="168.20" x2="475.45" y2="166.00" stroke="#111" stroke-width="0.9"/>
<line x1="487.33" y1="168.20" x2="487.33" y2="166.00" stroke="#111" stroke-width="0.9"/>
<line x1="499.22" y1="168.20" x2="499.22" y2="166.00" stroke="#111" stroke-width="0.9"/>
<path d="M368.5,168.2 L394.3,168.1 L400.9,163.3 L406.5,156.8 L407.4,156.3 L408.3,156.2 L412.8,158.9 L413.4,159.0 L414.0,158.8 L419.0,153.2 L419.6,152.9 L419.9,152.9 L420.5,153.2 L423.2,156.9 L423.8,157.3 L424.1,157.4 L424.4,157.2 L424.9,156.5 L427.3,152.3 L427.9,151.7 L428.2,151.6 L428.5,151.7 L429.1,152.1 L430.3,153.9 L432.7,159.6 L434.2,161.5 L438.0,163.9 L441.0,167.0 L443.4,168.1 L461.5,168.1 L461.8,168.0 L462.1,167.6 L462.7,165.8 L466.5,143.5 L468.0,138.2 L468.9,136.1 L469.5,135.3 L469.8,135.2 L470.1,135.3 L470.7,136.2 L471.9,139.8 L474.0,149.5 L476.6,156.8 L479.6,161.5 L486.1,167.1 L487.6,167.7 L489.1,167.6 L495.9,163.5 L501.6,157.0 L504.0,153.8 L504.9,153.1 L505.5,153.0 L506.3,153.3 L509.3,156.4 L511.1,159.0" fill="none" stroke="#2a2458" stroke-width="1.4" stroke-linejoin="round"/>
<line x1="368.50" y1="168.20" x2="395.53" y2="168.20" stroke="#2a2458" stroke-width="1.45"/>
<line x1="442.47" y1="168.20" x2="462.08" y2="168.20" stroke="#2a2458" stroke-width="1.45"/>
<line x1="487.93" y1="168.20" x2="488.82" y2="168.20" stroke="#2a2458" stroke-width="1.45"/>
<line x1="368.50" y1="168.20" x2="511.10" y2="168.20" stroke="#000" stroke-opacity="0.3" stroke-width="1.3"/>
<line x1="373.30" y1="132.60" x2="387.30" y2="132.60" stroke="#2a2458" stroke-width="1.5"/>
<text transform="translate(389.10,136.49) scale(0.66,1)" class="lg" font-size="9.8">SrCeO<tspan font-size="5.5" dy="1.6">3</tspan></text>
<rect x="368.50" y="3.45" width="142.60" height="164.75" fill="none" stroke="#000" stroke-width="1.3"/>
<line x1="439.80" y1="3.45" x2="439.80" y2="168.20" stroke="#b84c5a" stroke-width="1.45" stroke-dasharray="5.8 5.3" stroke-dashoffset="7.30"/>
<text transform="translate(367.90,181.50) scale(0.74,1)" class="xt" font-size="12.0" text-anchor="middle">-6</text>
<text transform="translate(391.67,181.50) scale(0.74,1)" class="xt" font-size="12.0" text-anchor="middle">-4</text>
<text transform="translate(415.43,181.50) scale(0.74,1)" class="xt" font-size="12.0" text-anchor="middle">-2</text>
<text transform="translate(439.80,181.50) scale(0.74,1)" class="xt" font-size="12.0" text-anchor="middle">0</text>
<text transform="translate(463.57,181.50) scale(0.74,1)" class="xt" font-size="12.0" text-anchor="middle">2</text>
<text transform="translate(487.33,181.50) scale(0.74,1)" class="xt" font-size="12.0" text-anchor="middle">4</text>
<text transform="translate(511.10,181.50) scale(0.74,1)" class="xt" font-size="12.0" text-anchor="middle">6</text>
<text transform="translate(440.00,192.20) scale(0.78,1)" class="xl" font-size="11.8" text-anchor="middle">Energy, E (eV)</text>
<text transform="translate(461.00,16.10) scale(0.8,1)" class="pl" font-size="12.3" text-anchor="middle">(c)</text>
<line x1="25.60" y1="254.20" x2="27.80" y2="254.20" stroke="#111" stroke-width="1"/>
<text transform="translate(24.00,257.96) scale(0.74,1)" class="yt" font-size="11.4" text-anchor="end">0.0</text>
<line x1="25.60" y1="241.07" x2="27.80" y2="241.07" stroke="#111" stroke-width="1"/>
<text transform="translate(24.00,244.84) scale(0.74,1)" class="yt" font-size="11.4" text-anchor="end">0.1</text>
<line x1="25.60" y1="227.95" x2="27.80" y2="227.95" stroke="#111" stroke-width="1"/>
<text transform="translate(24.00,231.71) scale(0.74,1)" class="yt" font-size="11.4" text-anchor="end">0.2</text>
<line x1="25.60" y1="214.82" x2="27.80" y2="214.82" stroke="#111" stroke-width="1"/>
<text transform="translate(24.00,218.59) scale(0.74,1)" class="yt" font-size="11.4" text-anchor="end">0.3</text>
<line x1="37.17" y1="254.20" x2="37.17" y2="252.00" stroke="#111" stroke-width="0.9"/>
<line x1="48.73" y1="254.20" x2="48.73" y2="252.00" stroke="#111" stroke-width="0.9"/>
<line x1="60.30" y1="254.20" x2="60.30" y2="252.00" stroke="#111" stroke-width="0.9"/>
<line x1="71.87" y1="254.20" x2="71.87" y2="252.00" stroke="#111" stroke-width="0.9"/>
<line x1="83.43" y1="254.20" x2="83.43" y2="252.00" stroke="#111" stroke-width="0.9"/>
<line x1="95.00" y1="254.20" x2="95.00" y2="252.00" stroke="#111" stroke-width="0.9"/>
<line x1="106.57" y1="254.20" x2="106.57" y2="252.00" stroke="#111" stroke-width="0.9"/>
<line x1="118.13" y1="254.20" x2="118.13" y2="252.00" stroke="#111" stroke-width="0.9"/>
<line x1="129.70" y1="254.20" x2="129.70" y2="252.00" stroke="#111" stroke-width="0.9"/>
<line x1="141.27" y1="254.20" x2="141.27" y2="252.00" stroke="#111" stroke-width="0.9"/>
<line x1="152.83" y1="254.20" x2="152.83" y2="252.00" stroke="#111" stroke-width="0.9"/>
<line x1="25.60" y1="254.20" x2="164.40" y2="254.20" stroke="#111" stroke-width="1.2"/>
<path d="M25.6,254.2 L49.3,254.1 L56.8,248.8 L60.6,244.5 L62.3,241.3 L63.5,237.7 L66.7,225.7 L67.8,223.0 L68.1,222.6 L68.4,222.4 L68.7,222.5 L69.0,222.8 L69.6,224.4 L72.7,239.4 L75.0,245.8 L77.4,249.3 L78.5,250.4 L79.1,250.6 L79.7,250.5 L80.8,249.6 L86.6,242.2 L87.2,241.8 L87.5,241.8 L87.8,241.8 L88.3,242.5 L91.0,248.7 L94.1,253.1 L95.0,253.9 L164.4,254.2" fill="none" stroke="#a83cb8" stroke-width="1.4" stroke-linejoin="round"/>
<path d="M25.6,254.2 L49.3,254.1 L51.6,252.9 L60.6,243.9 L61.5,243.6 L62.0,243.6 L62.6,244.0 L67.2,251.4 L67.8,251.9 L68.4,252.1 L69.0,251.9 L73.9,246.8 L74.8,246.4 L90.7,254.1 L130.3,254.1 L130.9,253.9 L135.8,247.5 L136.4,247.2 L136.9,247.2 L137.8,247.8 L142.4,253.6 L143.3,254.1 L160.6,254.0 L164.4,252.9" fill="none" stroke="#2a2458" stroke-width="1.4" stroke-linejoin="round"/>
<line x1="25.60" y1="254.20" x2="50.47" y2="254.20" stroke="#7a3a9a" stroke-width="1.45"/>
<line x1="89.80" y1="254.20" x2="131.15" y2="254.20" stroke="#7a3a9a" stroke-width="1.45"/>
<line x1="142.71" y1="254.20" x2="161.80" y2="254.20" stroke="#7a3a9a" stroke-width="1.45"/>
<line x1="25.60" y1="254.20" x2="164.40" y2="254.20" stroke="#000" stroke-opacity="0.3" stroke-width="1.3"/>
<line x1="30.50" y1="217.50" x2="44.00" y2="217.50" stroke="#2a2458" stroke-width="1.5"/>
<text transform="translate(45.80,221.61) scale(0.62,1)" class="lg" font-size="9.9">Ba-6s</text>
<line x1="30.50" y1="229.50" x2="44.00" y2="229.50" stroke="#a83cb8" stroke-width="1.5"/>
<text transform="translate(45.80,233.61) scale(0.62,1)" class="lg" font-size="9.9">Ba-5p</text>
<line x1="25.60" y1="296.10" x2="27.80" y2="296.10" stroke="#111" stroke-width="1"/>
<text transform="translate(24.00,299.86) scale(0.74,1)" class="yt" font-size="11.4" text-anchor="end">0</text>
<line x1="25.60" y1="280.86" x2="27.80" y2="280.86" stroke="#111" stroke-width="1"/>
<text transform="translate(24.00,284.63) scale(0.74,1)" class="yt" font-size="11.4" text-anchor="end">2</text>
<line x1="25.60" y1="265.63" x2="27.80" y2="265.63" stroke="#111" stroke-width="1"/>
<text transform="translate(24.00,269.39) scale(0.74,1)" class="yt" font-size="11.4" text-anchor="end">4</text>
<line x1="37.17" y1="296.10" x2="37.17" y2="293.90" stroke="#111" stroke-width="0.9"/>
<line x1="48.73" y1="296.10" x2="48.73" y2="293.90" stroke="#111" stroke-width="0.9"/>
<line x1="60.30" y1="296.10" x2="60.30" y2="293.90" stroke="#111" stroke-width="0.9"/>
<line x1="71.87" y1="296.10" x2="71.87" y2="293.90" stroke="#111" stroke-width="0.9"/>
<line x1="83.43" y1="296.10" x2="83.43" y2="293.90" stroke="#111" stroke-width="0.9"/>
<line x1="95.00" y1="296.10" x2="95.00" y2="293.90" stroke="#111" stroke-width="0.9"/>
<line x1="106.57" y1="296.10" x2="106.57" y2="293.90" stroke="#111" stroke-width="0.9"/>
<line x1="118.13" y1="296.10" x2="118.13" y2="293.90" stroke="#111" stroke-width="0.9"/>
<line x1="129.70" y1="296.10" x2="129.70" y2="293.90" stroke="#111" stroke-width="0.9"/>
<line x1="141.27" y1="296.10" x2="141.27" y2="293.90" stroke="#111" stroke-width="0.9"/>
<line x1="152.83" y1="296.10" x2="152.83" y2="293.90" stroke="#111" stroke-width="0.9"/>
<line x1="25.60" y1="296.10" x2="164.40" y2="296.10" stroke="#111" stroke-width="1.2"/>
<path d="M25.6,296.1 L46.7,296.0 L50.5,294.0 L51.6,293.9 L164.4,296.1" fill="none" stroke="#4a2a22" stroke-width="1.4" stroke-linejoin="round"/>
<path d="M25.6,296.1 L47.0,296.0 L50.8,294.6 L62.9,294.5 L67.0,293.5 L164.4,296.1" fill="none" stroke="#5030b0" stroke-width="1.4" stroke-linejoin="round"/>
<path d="M25.6,296.1 L47.9,296.0 L48.4,295.6 L50.8,290.8 L51.6,289.8 L53.4,289.3 L54.2,289.4 L57.7,291.5 L59.1,291.7 L65.2,289.0 L67.2,289.0 L73.0,292.0 L75.9,293.9 L87.8,295.0 L112.1,296.0 L112.9,295.6 L115.2,293.3 L118.7,292.0 L119.3,291.5 L120.4,289.4 L124.2,281.0 L125.1,279.8 L125.7,279.5 L126.2,279.7 L129.4,283.0 L130.0,283.3 L130.3,283.3 L130.6,283.2 L130.9,282.8 L131.4,281.2 L135.2,264.3 L135.8,262.9 L136.1,262.7 L136.4,262.7 L136.6,263.1 L137.5,265.3 L142.1,283.9 L142.7,285.3 L143.9,286.6 L147.6,289.1 L151.1,292.3 L152.0,292.6 L152.5,292.6 L153.4,292.1 L157.2,287.4 L157.7,287.1 L158.3,287.2 L164.1,291.4 L164.4,291.6" fill="none" stroke="#a0d860" stroke-width="1.4" stroke-linejoin="round"/>
<line x1="25.60" y1="296.10" x2="48.44" y2="296.10" stroke="#a0d860" stroke-width="1.45"/>
<line x1="89.51" y1="296.10" x2="113.22" y2="296.10" stroke="#a0d860" stroke-width="1.45"/>
<line x1="25.60" y1="296.10" x2="164.40" y2="296.10" stroke="#000" stroke-opacity="0.3" stroke-width="1.3"/>
<line x1="30.00" y1="258.90" x2="43.50" y2="258.90" stroke="#4a2a22" stroke-width="1.5"/>
<text transform="translate(45.30,263.01) scale(0.62,1)" class="lg" font-size="9.9">Ti-4s</text>
<line x1="30.00" y1="270.50" x2="43.50" y2="270.50" stroke="#5030b0" stroke-width="1.5"/>
<text transform="translate(45.30,274.61) scale(0.62,1)" class="lg" font-size="9.9">Ti-3p</text>
<line x1="30.00" y1="282.30" x2="43.50" y2="282.30" stroke="#a0d860" stroke-width="1.5"/>
<text transform="translate(45.30,286.41) scale(0.62,1)" class="lg" font-size="9.9">Ti-3d</text>
<line x1="25.60" y1="338.30" x2="27.80" y2="338.30" stroke="#111" stroke-width="1"/>
<text transform="translate(24.00,342.06) scale(0.74,1)" class="yt" font-size="11.4" text-anchor="end">0</text>
<line x1="25.60" y1="322.67" x2="27.80" y2="322.67" stroke="#111" stroke-width="1"/>
<text transform="translate(24.00,326.43) scale(0.74,1)" class="yt" font-size="11.4" text-anchor="end">3</text>
<line x1="25.60" y1="307.04" x2="27.80" y2="307.04" stroke="#111" stroke-width="1"/>
<text transform="translate(24.00,310.80) scale(0.74,1)" class="yt" font-size="11.4" text-anchor="end">6</text>
<line x1="37.17" y1="338.30" x2="37.17" y2="336.10" stroke="#111" stroke-width="0.9"/>
<line x1="48.73" y1="338.30" x2="48.73" y2="336.10" stroke="#111" stroke-width="0.9"/>
<line x1="60.30" y1="338.30" x2="60.30" y2="336.10" stroke="#111" stroke-width="0.9"/>
<line x1="71.87" y1="338.30" x2="71.87" y2="336.10" stroke="#111" stroke-width="0.9"/>
<line x1="83.43" y1="338.30" x2="83.43" y2="336.10" stroke="#111" stroke-width="0.9"/>
<line x1="95.00" y1="338.30" x2="95.00" y2="336.10" stroke="#111" stroke-width="0.9"/>
<line x1="106.57" y1="338.30" x2="106.57" y2="336.10" stroke="#111" stroke-width="0.9"/>
<line x1="118.13" y1="338.30" x2="118.13" y2="336.10" stroke="#111" stroke-width="0.9"/>
<line x1="129.70" y1="338.30" x2="129.70" y2="336.10" stroke="#111" stroke-width="0.9"/>
<line x1="141.27" y1="338.30" x2="141.27" y2="336.10" stroke="#111" stroke-width="0.9"/>
<line x1="152.83" y1="338.30" x2="152.83" y2="336.10" stroke="#111" stroke-width="0.9"/>
<line x1="25.60" y1="338.30" x2="164.40" y2="338.30" stroke="#111" stroke-width="1.2"/>
<path d="M25.6,338.3 L119.0,338.2 L123.6,336.8 L148.2,338.2 L160.6,337.4 L164.4,338.3" fill="none" stroke="#c03070" stroke-width="1.4" stroke-linejoin="round"/>
<path d="M25.6,338.3 L42.4,338.2 L43.2,337.8 L47.6,331.5 L50.2,326.7 L51.0,325.7 L51.6,325.4 L52.2,325.5 L55.4,328.0 L56.0,328.1 L56.5,327.9 L57.4,326.7 L62.9,315.1 L64.1,313.5 L64.6,313.0 L65.2,312.9 L65.8,313.1 L66.7,314.0 L70.7,321.1 L75.9,325.5 L77.9,326.2 L78.8,326.1 L79.7,325.4 L83.4,317.4 L86.3,307.2 L86.9,306.2 L87.2,306.0 L87.5,306.1 L87.8,306.5 L88.3,307.9 L91.2,320.0 L97.9,335.6 L99.3,337.5 L100.5,338.2 L119.6,338.1 L125.1,336.7 L131.1,336.6 L132.3,336.0 L134.9,333.4 L135.8,332.9 L136.4,332.9 L137.5,333.6 L142.1,337.7 L143.3,338.2 L152.3,338.2 L156.0,336.8 L164.4,338.3" fill="none" stroke="#457a32" stroke-width="1.4" stroke-linejoin="round"/>
<line x1="25.60" y1="338.30" x2="43.24" y2="338.30" stroke="#457a32" stroke-width="1.45"/>
<line x1="99.92" y1="338.30" x2="121.03" y2="338.30" stroke="#457a32" stroke-width="1.45"/>
<line x1="142.42" y1="338.30" x2="153.70" y2="338.30" stroke="#457a32" stroke-width="1.45"/>
<line x1="161.22" y1="338.30" x2="164.40" y2="338.30" stroke="#457a32" stroke-width="1.45"/>
<line x1="25.60" y1="338.30" x2="164.40" y2="338.30" stroke="#000" stroke-opacity="0.3" stroke-width="1.3"/>
<line x1="30.00" y1="301.20" x2="43.50" y2="301.20" stroke="#c03070" stroke-width="1.5"/>
<text transform="translate(45.30,305.31) scale(0.62,1)" class="lg" font-size="9.9">O-2s</text>
<line x1="30.00" y1="312.80" x2="43.50" y2="312.80" stroke="#457a32" stroke-width="1.5"/>
<text transform="translate(45.30,316.91) scale(0.62,1)" class="lg" font-size="9.9">O-2p</text>
<line x1="25.60" y1="380.50" x2="27.80" y2="380.50" stroke="#111" stroke-width="1"/>
<text transform="translate(24.00,384.26) scale(0.74,1)" class="yt" font-size="11.4" text-anchor="end">0</text>
<line x1="25.60" y1="369.88" x2="27.80" y2="369.88" stroke="#111" stroke-width="1"/>
<text transform="translate(24.00,373.65) scale(0.74,1)" class="yt" font-size="11.4" text-anchor="end">2</text>
<line x1="25.60" y1="359.27" x2="27.80" y2="359.27" stroke="#111" stroke-width="1"/>
<text transform="translate(24.00,363.03) scale(0.74,1)" class="yt" font-size="11.4" text-anchor="end">4</text>
<line x1="25.60" y1="348.65" x2="27.80" y2="348.65" stroke="#111" stroke-width="1"/>
<text transform="translate(24.00,352.41) scale(0.74,1)" class="yt" font-size="11.4" text-anchor="end">6</text>
<line x1="37.17" y1="380.50" x2="37.17" y2="378.30" stroke="#111" stroke-width="0.9"/>
<line x1="48.73" y1="380.50" x2="48.73" y2="378.30" stroke="#111" stroke-width="0.9"/>
<line x1="60.30" y1="380.50" x2="60.30" y2="378.30" stroke="#111" stroke-width="0.9"/>
<line x1="71.87" y1="380.50" x2="71.87" y2="378.30" stroke="#111" stroke-width="0.9"/>
<line x1="83.43" y1="380.50" x2="83.43" y2="378.30" stroke="#111" stroke-width="0.9"/>
<line x1="95.00" y1="380.50" x2="95.00" y2="378.30" stroke="#111" stroke-width="0.9"/>
<line x1="106.57" y1="380.50" x2="106.57" y2="378.30" stroke="#111" stroke-width="0.9"/>
<line x1="118.13" y1="380.50" x2="118.13" y2="378.30" stroke="#111" stroke-width="0.9"/>
<line x1="129.70" y1="380.50" x2="129.70" y2="378.30" stroke="#111" stroke-width="0.9"/>
<line x1="141.27" y1="380.50" x2="141.27" y2="378.30" stroke="#111" stroke-width="0.9"/>
<line x1="152.83" y1="380.50" x2="152.83" y2="378.30" stroke="#111" stroke-width="0.9"/>
<path d="M25.6,380.5 L42.7,380.5 L43.2,380.3 L44.1,379.3 L47.9,372.0 L51.0,362.2 L51.6,361.2 L51.9,361.0 L52.2,360.9 L52.8,361.1 L55.4,364.1 L56.0,364.5 L56.3,364.6 L56.5,364.5 L57.1,363.9 L58.0,361.9 L63.2,346.7 L64.3,344.6 L64.9,344.0 L65.5,343.8 L66.1,344.1 L67.0,345.3 L71.3,355.6 L76.5,364.5 L77.9,365.9 L78.8,366.2 L79.4,366.1 L80.0,365.6 L81.1,363.6 L84.3,354.6 L86.3,345.9 L86.9,344.4 L87.2,344.1 L87.5,344.2 L87.8,344.5 L88.3,345.9 L94.4,369.3 L97.6,377.2 L99.3,379.8 L99.9,380.3 L114.4,380.4 L120.4,376.2 L121.6,374.7 L125.1,367.8 L125.7,367.1 L126.2,366.8 L127.1,366.9 L130.0,368.7 L130.6,368.8 L130.9,368.7 L131.1,368.3 L131.7,366.9 L134.9,352.4 L135.5,350.9 L135.8,350.6 L136.1,350.5 L136.4,350.7 L136.9,351.7 L141.6,367.1 L143.3,371.0 L144.4,372.4 L150.8,376.5 L151.7,376.7 L152.3,376.5 L153.4,375.4 L156.0,371.9 L156.9,371.3 L158.9,371.6 L164.4,374.0" fill="none" stroke="#2a2458" stroke-width="1.4" stroke-linejoin="round"/>
<line x1="25.60" y1="380.50" x2="43.82" y2="380.50" stroke="#2a2458" stroke-width="1.45"/>
<line x1="99.63" y1="380.50" x2="115.53" y2="380.50" stroke="#2a2458" stroke-width="1.45"/>
<line x1="25.60" y1="380.50" x2="164.40" y2="380.50" stroke="#000" stroke-opacity="0.3" stroke-width="1.3"/>
<line x1="27.20" y1="344.70" x2="40.70" y2="344.70" stroke="#2a2458" stroke-width="1.5"/>
<text transform="translate(42.50,348.81) scale(0.62,1)" class="lg" font-size="9.9">BaTiO<tspan font-size="5.5" dy="1.6">3</tspan></text>
<rect x="25.60" y="212.20" width="138.80" height="168.30" fill="none" stroke="#000" stroke-width="1.3"/>
<line x1="95.00" y1="212.20" x2="95.00" y2="380.50" stroke="#b84c5a" stroke-width="1.45" stroke-dasharray="5.8 5.3" stroke-dashoffset="7.30"/>
<text transform="translate(25.00,393.80) scale(0.74,1)" class="xt" font-size="11.4" text-anchor="middle">-6</text>
<text transform="translate(48.13,393.80) scale(0.74,1)" class="xt" font-size="11.4" text-anchor="middle">-4</text>
<text transform="translate(71.27,393.80) scale(0.74,1)" class="xt" font-size="11.4" text-anchor="middle">-2</text>
<text transform="translate(95.00,393.80) scale(0.74,1)" class="xt" font-size="11.4" text-anchor="middle">0</text>
<text transform="translate(118.13,393.80) scale(0.74,1)" class="xt" font-size="11.4" text-anchor="middle">2</text>
<text transform="translate(141.27,393.80) scale(0.74,1)" class="xt" font-size="11.4" text-anchor="middle">4</text>
<text transform="translate(164.40,393.80) scale(0.74,1)" class="xt" font-size="11.4" text-anchor="middle">6</text>
<text transform="translate(95.00,406.20) scale(0.78,1)" class="xl" font-size="11.3" text-anchor="middle">Energy, E (eV)</text>
<text transform="translate(122.30,225.80) scale(0.8,1)" class="pl" font-size="12.3" text-anchor="middle">(d)</text>
<text x="0" y="0" class="yl" font-size="12.2" text-anchor="middle" transform="translate(10.60,301.90) rotate(-90)">Density of States (states/eV)</text>
<line x1="191.80" y1="255.10" x2="194.00" y2="255.10" stroke="#111" stroke-width="1"/>
<text transform="translate(190.20,259.16) scale(0.78,1)" class="yt" font-size="12.3" text-anchor="end">0.0</text>
<line x1="191.80" y1="242.10" x2="194.00" y2="242.10" stroke="#111" stroke-width="1"/>
<text transform="translate(190.20,246.16) scale(0.78,1)" class="yt" font-size="12.3" text-anchor="end">0.1</text>
<line x1="191.80" y1="229.10" x2="194.00" y2="229.10" stroke="#111" stroke-width="1"/>
<text transform="translate(190.20,233.16) scale(0.78,1)" class="yt" font-size="12.3" text-anchor="end">0.2</text>
<line x1="191.80" y1="216.10" x2="194.00" y2="216.10" stroke="#111" stroke-width="1"/>
<text transform="translate(190.20,220.16) scale(0.78,1)" class="yt" font-size="12.3" text-anchor="end">0.3</text>
<line x1="204.18" y1="255.10" x2="204.18" y2="252.90" stroke="#111" stroke-width="0.9"/>
<line x1="216.57" y1="255.10" x2="216.57" y2="252.90" stroke="#111" stroke-width="0.9"/>
<line x1="228.95" y1="255.10" x2="228.95" y2="252.90" stroke="#111" stroke-width="0.9"/>
<line x1="241.33" y1="255.10" x2="241.33" y2="252.90" stroke="#111" stroke-width="0.9"/>
<line x1="253.72" y1="255.10" x2="253.72" y2="252.90" stroke="#111" stroke-width="0.9"/>
<line x1="266.10" y1="255.10" x2="266.10" y2="252.90" stroke="#111" stroke-width="0.9"/>
<line x1="278.48" y1="255.10" x2="278.48" y2="252.90" stroke="#111" stroke-width="0.9"/>
<line x1="290.87" y1="255.10" x2="290.87" y2="252.90" stroke="#111" stroke-width="0.9"/>
<line x1="303.25" y1="255.10" x2="303.25" y2="252.90" stroke="#111" stroke-width="0.9"/>
<line x1="315.63" y1="255.10" x2="315.63" y2="252.90" stroke="#111" stroke-width="0.9"/>
<line x1="328.02" y1="255.10" x2="328.02" y2="252.90" stroke="#111" stroke-width="0.9"/>
<line x1="191.80" y1="255.10" x2="340.40" y2="255.10" stroke="#111" stroke-width="1.2"/>
<path d="M191.8,255.1 L205.4,255.0 L206.4,254.6 L210.4,250.3 L211.3,249.9 L214.1,249.8 L214.7,249.5 L215.9,247.9 L219.7,241.5 L220.3,241.0 L220.6,241.0 L220.9,241.2 L221.5,242.3 L225.2,251.4 L226.2,252.9 L226.8,253.4 L229.9,253.5 L230.5,253.2 L231.7,251.7 L233.6,249.0 L236.1,246.9 L237.0,246.5 L237.9,246.5 L241.3,249.3 L243.5,251.9 L244.1,252.3 L244.7,252.4 L247.8,250.5 L248.5,250.4 L249.1,250.6 L252.5,254.7 L253.1,255.0 L301.7,255.0 L308.2,253.8 L308.8,253.4 L311.9,248.7 L313.8,246.8 L314.7,246.4 L315.3,246.4 L316.3,246.9 L322.8,254.2 L324.0,254.9 L324.6,255.0 L325.2,254.6 L328.6,249.3 L331.1,246.9 L332.0,246.4 L332.7,246.4 L336.1,248.8 L336.4,249.0 L336.7,249.0 L337.0,248.7 L337.3,248.1 L337.9,245.4 L338.5,240.3 L340.1,220.1 L340.4,217.4" fill="none" stroke="#2a2458" stroke-width="1.4" stroke-linejoin="round"/>
<path d="M191.8,255.1 L340.4,255.1" fill="none" stroke="#a83cb8" stroke-width="1.4" stroke-linejoin="round"/>
<line x1="191.80" y1="255.10" x2="212.54" y2="255.10" stroke="#a83cb8" stroke-width="1.45"/>
<line x1="243.19" y1="255.10" x2="306.97" y2="255.10" stroke="#a83cb8" stroke-width="1.45"/>
<line x1="313.47" y1="255.10" x2="340.40" y2="255.10" stroke="#a83cb8" stroke-width="1.45"/>
<line x1="191.80" y1="255.10" x2="340.40" y2="255.10" stroke="#000" stroke-opacity="0.3" stroke-width="1.3"/>
<line x1="196.80" y1="218.90" x2="211.20" y2="218.90" stroke="#2a2458" stroke-width="1.5"/>
<text transform="translate(213.00,222.97) scale(0.685,1)" class="lg" font-size="10.3">Ca-4s</text>
<line x1="196.80" y1="230.90" x2="211.20" y2="230.90" stroke="#a83cb8" stroke-width="1.5"/>
<text transform="translate(213.00,234.97) scale(0.685,1)" class="lg" font-size="10.3">Ca-3p</text>
<line x1="191.80" y1="297.10" x2="194.00" y2="297.10" stroke="#111" stroke-width="1"/>
<text transform="translate(190.20,301.16) scale(0.78,1)" class="yt" font-size="12.3" text-anchor="end">0</text>
<line x1="191.80" y1="281.83" x2="194.00" y2="281.83" stroke="#111" stroke-width="1"/>
<text transform="translate(190.20,285.89) scale(0.78,1)" class="yt" font-size="12.3" text-anchor="end">2</text>
<line x1="191.80" y1="266.55" x2="194.00" y2="266.55" stroke="#111" stroke-width="1"/>
<text transform="translate(190.20,270.61) scale(0.78,1)" class="yt" font-size="12.3" text-anchor="end">4</text>
<line x1="204.18" y1="297.10" x2="204.18" y2="294.90" stroke="#111" stroke-width="0.9"/>
<line x1="216.57" y1="297.10" x2="216.57" y2="294.90" stroke="#111" stroke-width="0.9"/>
<line x1="228.95" y1="297.10" x2="228.95" y2="294.90" stroke="#111" stroke-width="0.9"/>
<line x1="241.33" y1="297.10" x2="241.33" y2="294.90" stroke="#111" stroke-width="0.9"/>
<line x1="253.72" y1="297.10" x2="253.72" y2="294.90" stroke="#111" stroke-width="0.9"/>
<line x1="266.10" y1="297.10" x2="266.10" y2="294.90" stroke="#111" stroke-width="0.9"/>
<line x1="278.48" y1="297.10" x2="278.48" y2="294.90" stroke="#111" stroke-width="0.9"/>
<line x1="290.87" y1="297.10" x2="290.87" y2="294.90" stroke="#111" stroke-width="0.9"/>
<line x1="303.25" y1="297.10" x2="303.25" y2="294.90" stroke="#111" stroke-width="0.9"/>
<line x1="315.63" y1="297.10" x2="315.63" y2="294.90" stroke="#111" stroke-width="0.9"/>
<line x1="328.02" y1="297.10" x2="328.02" y2="294.90" stroke="#111" stroke-width="0.9"/>
<line x1="191.80" y1="297.10" x2="340.40" y2="297.10" stroke="#111" stroke-width="1.2"/>
<path d="M191.8,297.1 L208.2,296.9 L213.8,295.6 L340.4,296.7" fill="none" stroke="#4a2a22" stroke-width="1.4" stroke-linejoin="round"/>
<path d="M191.8,297.1 L209.8,296.7 L233.3,294.5 L242.3,297.1 L340.4,297.1" fill="none" stroke="#5030b0" stroke-width="1.4" stroke-linejoin="round"/>
<path d="M191.8,297.1 L207.9,297.1 L208.5,296.8 L209.1,296.1 L211.6,291.1 L213.5,288.8 L214.4,288.2 L215.0,288.1 L216.6,288.9 L219.0,290.6 L239.5,294.1 L240.1,294.6 L241.3,296.7 L241.6,296.9 L288.1,297.0 L292.4,294.7 L295.5,293.7 L296.1,293.2 L296.7,292.2 L299.2,286.1 L301.7,282.7 L302.6,282.1 L303.3,282.0 L303.9,282.2 L304.8,283.4 L307.3,287.6 L307.9,288.1 L308.2,288.1 L308.5,287.9 L308.8,287.5 L309.4,285.7 L313.5,267.9 L314.1,266.1 L314.4,265.6 L314.7,265.5 L315.0,265.7 L315.6,267.0 L319.0,281.0 L321.5,288.1 L323.7,291.8 L324.6,292.7 L325.2,292.9 L326.2,292.7 L328.9,290.8 L329.9,290.7 L331.7,291.4 L335.8,293.9 L336.7,294.1 L337.3,294.0 L338.2,293.5 L340.4,290.9" fill="none" stroke="#a0d860" stroke-width="1.4" stroke-linejoin="round"/>
<line x1="191.80" y1="297.10" x2="208.83" y2="297.10" stroke="#a0d860" stroke-width="1.45"/>
<line x1="241.33" y1="297.10" x2="289.32" y2="297.10" stroke="#a0d860" stroke-width="1.45"/>
<line x1="191.80" y1="297.10" x2="340.40" y2="297.10" stroke="#000" stroke-opacity="0.3" stroke-width="1.3"/>
<line x1="196.80" y1="259.50" x2="211.20" y2="259.50" stroke="#4a2a22" stroke-width="1.5"/>
<text transform="translate(213.00,263.57) scale(0.685,1)" class="lg" font-size="10.3">Ti-4s</text>
<line x1="196.80" y1="271.50" x2="211.20" y2="271.50" stroke="#5030b0" stroke-width="1.5"/>
<text transform="translate(213.00,275.57) scale(0.685,1)" class="lg" font-size="10.3">Ti-3p</text>
<line x1="196.80" y1="283.00" x2="211.20" y2="283.00" stroke="#a0d860" stroke-width="1.5"/>
<text transform="translate(213.00,287.07) scale(0.685,1)" class="lg" font-size="10.3">Ti-3d</text>
<line x1="191.80" y1="339.20" x2="194.00" y2="339.20" stroke="#111" stroke-width="1"/>
<text transform="translate(190.20,343.26) scale(0.78,1)" class="yt" font-size="12.3" text-anchor="end">0</text>
<line x1="191.80" y1="323.31" x2="194.00" y2="323.31" stroke="#111" stroke-width="1"/>
<text transform="translate(190.20,327.37) scale(0.78,1)" class="yt" font-size="12.3" text-anchor="end">3</text>
<line x1="191.80" y1="307.43" x2="194.00" y2="307.43" stroke="#111" stroke-width="1"/>
<text transform="translate(190.20,311.49) scale(0.78,1)" class="yt" font-size="12.3" text-anchor="end">6</text>
<line x1="204.18" y1="339.20" x2="204.18" y2="337.00" stroke="#111" stroke-width="0.9"/>
<line x1="216.57" y1="339.20" x2="216.57" y2="337.00" stroke="#111" stroke-width="0.9"/>
<line x1="228.95" y1="339.20" x2="228.95" y2="337.00" stroke="#111" stroke-width="0.9"/>
<line x1="241.33" y1="339.20" x2="241.33" y2="337.00" stroke="#111" stroke-width="0.9"/>
<line x1="253.72" y1="339.20" x2="253.72" y2="337.00" stroke="#111" stroke-width="0.9"/>
<line x1="266.10" y1="339.20" x2="266.10" y2="337.00" stroke="#111" stroke-width="0.9"/>
<line x1="278.48" y1="339.20" x2="278.48" y2="337.00" stroke="#111" stroke-width="0.9"/>
<line x1="290.87" y1="339.20" x2="290.87" y2="337.00" stroke="#111" stroke-width="0.9"/>
<line x1="303.25" y1="339.20" x2="303.25" y2="337.00" stroke="#111" stroke-width="0.9"/>
<line x1="315.63" y1="339.20" x2="315.63" y2="337.00" stroke="#111" stroke-width="0.9"/>
<line x1="328.02" y1="339.20" x2="328.02" y2="337.00" stroke="#111" stroke-width="0.9"/>
<line x1="191.80" y1="339.20" x2="340.40" y2="339.20" stroke="#111" stroke-width="1.2"/>
<path d="M191.8,339.2 L298.0,339.1 L302.9,337.6 L340.4,339.2" fill="none" stroke="#c03070" stroke-width="1.4" stroke-linejoin="round"/>
<path d="M191.8,339.2 L205.7,339.2 L206.4,338.9 L207.0,338.3 L210.7,329.5 L213.2,322.0 L213.8,320.7 L214.4,320.0 L214.7,319.9 L215.3,320.0 L218.7,323.8 L219.4,324.2 L220.0,324.2 L221.2,323.5 L223.4,321.6 L224.3,321.3 L228.0,321.9 L231.4,321.6 L232.7,322.0 L241.6,328.6 L243.2,329.1 L244.1,329.0 L245.4,328.1 L250.0,321.1 L253.7,312.0 L254.3,311.0 L254.6,310.7 L255.0,310.7 L255.3,310.8 L255.6,311.2 L256.2,312.9 L258.4,321.8 L260.5,326.9 L261.5,328.3 L262.4,329.1 L264.9,329.6 L265.5,330.0 L266.1,330.8 L266.7,332.0 L268.3,337.2 L268.9,338.4 L269.5,338.9 L308.5,339.1 L309.8,338.5 L313.8,334.6 L314.7,334.1 L315.6,334.2 L316.9,334.9 L320.6,338.7 L321.5,339.1 L340.4,339.2" fill="none" stroke="#457a32" stroke-width="1.4" stroke-linejoin="round"/>
<line x1="191.80" y1="339.20" x2="206.66" y2="339.20" stroke="#457a32" stroke-width="1.45"/>
<line x1="269.20" y1="339.20" x2="309.75" y2="339.20" stroke="#457a32" stroke-width="1.45"/>
<line x1="320.90" y1="339.20" x2="340.40" y2="339.20" stroke="#457a32" stroke-width="1.45"/>
<line x1="191.80" y1="339.20" x2="340.40" y2="339.20" stroke="#000" stroke-opacity="0.3" stroke-width="1.3"/>
<line x1="196.80" y1="302.50" x2="211.20" y2="302.50" stroke="#c03070" stroke-width="1.5"/>
<text transform="translate(213.00,306.57) scale(0.685,1)" class="lg" font-size="10.3">O-2s</text>
<line x1="196.80" y1="314.50" x2="211.20" y2="314.50" stroke="#457a32" stroke-width="1.5"/>
<text transform="translate(213.00,318.57) scale(0.685,1)" class="lg" font-size="10.3">O-2p</text>
<line x1="191.80" y1="381.80" x2="194.00" y2="381.80" stroke="#111" stroke-width="1"/>
<text transform="translate(190.20,385.86) scale(0.78,1)" class="yt" font-size="12.3" text-anchor="end">0</text>
<line x1="191.80" y1="371.41" x2="194.00" y2="371.41" stroke="#111" stroke-width="1"/>
<text transform="translate(190.20,375.47) scale(0.78,1)" class="yt" font-size="12.3" text-anchor="end">2</text>
<line x1="191.80" y1="361.02" x2="194.00" y2="361.02" stroke="#111" stroke-width="1"/>
<text transform="translate(190.20,365.08) scale(0.78,1)" class="yt" font-size="12.3" text-anchor="end">4</text>
<line x1="191.80" y1="350.63" x2="194.00" y2="350.63" stroke="#111" stroke-width="1"/>
<text transform="translate(190.20,354.69) scale(0.78,1)" class="yt" font-size="12.3" text-anchor="end">6</text>
<line x1="204.18" y1="381.80" x2="204.18" y2="379.60" stroke="#111" stroke-width="0.9"/>
<line x1="216.57" y1="381.80" x2="216.57" y2="379.60" stroke="#111" stroke-width="0.9"/>
<line x1="228.95" y1="381.80" x2="228.95" y2="379.60" stroke="#111" stroke-width="0.9"/>
<line x1="241.33" y1="381.80" x2="241.33" y2="379.60" stroke="#111" stroke-width="0.9"/>
<line x1="253.72" y1="381.80" x2="253.72" y2="379.60" stroke="#111" stroke-width="0.9"/>
<line x1="266.10" y1="381.80" x2="266.10" y2="379.60" stroke="#111" stroke-width="0.9"/>
<line x1="278.48" y1="381.80" x2="278.48" y2="379.60" stroke="#111" stroke-width="0.9"/>
<line x1="290.87" y1="381.80" x2="290.87" y2="379.60" stroke="#111" stroke-width="0.9"/>
<line x1="303.25" y1="381.80" x2="303.25" y2="379.60" stroke="#111" stroke-width="0.9"/>
<line x1="315.63" y1="381.80" x2="315.63" y2="379.60" stroke="#111" stroke-width="0.9"/>
<line x1="328.02" y1="381.80" x2="328.02" y2="379.60" stroke="#111" stroke-width="0.9"/>
<path d="M191.8,381.8 L205.1,381.8 L205.7,381.5 L206.4,380.9 L207.6,378.5 L210.1,371.5 L213.5,355.0 L214.1,353.3 L214.4,352.7 L214.7,352.5 L215.0,352.5 L215.6,353.0 L218.4,358.3 L219.0,359.1 L219.7,359.5 L220.3,359.4 L223.4,356.6 L224.0,356.3 L224.6,356.3 L227.4,358.0 L228.3,358.0 L231.1,357.1 L232.0,357.3 L233.3,358.3 L242.0,368.8 L243.2,369.6 L244.1,369.8 L245.0,369.4 L246.3,368.1 L250.3,360.5 L253.7,350.0 L254.3,348.8 L254.6,348.5 L255.0,348.4 L255.3,348.5 L255.6,349.0 L256.2,350.8 L258.7,362.6 L260.5,368.5 L261.1,369.8 L261.8,370.5 L263.9,371.6 L264.6,372.3 L267.3,378.4 L268.9,380.6 L270.1,381.4 L288.7,381.7 L297.1,377.4 L298.3,376.0 L301.7,369.9 L302.6,368.9 L303.3,368.7 L303.9,368.9 L305.1,370.3 L307.0,373.1 L307.6,373.6 L307.9,373.8 L308.2,373.8 L308.5,373.5 L309.1,372.4 L310.1,369.3 L313.2,354.7 L313.8,352.8 L314.1,352.2 L314.4,351.9 L314.7,351.8 L315.0,352.0 L315.6,353.1 L319.0,365.1 L322.8,374.6 L324.0,376.6 L324.6,377.1 L325.2,377.3 L325.8,377.1 L328.9,373.8 L329.9,373.3 L334.2,372.8 L334.8,372.5 L335.8,371.4 L338.5,364.9 L340.4,358.8" fill="none" stroke="#2a2458" stroke-width="1.4" stroke-linejoin="round"/>
<line x1="191.80" y1="381.80" x2="206.04" y2="381.80" stroke="#2a2458" stroke-width="1.45"/>
<line x1="270.12" y1="381.80" x2="289.94" y2="381.80" stroke="#2a2458" stroke-width="1.45"/>
<line x1="191.80" y1="381.80" x2="340.40" y2="381.80" stroke="#000" stroke-opacity="0.3" stroke-width="1.3"/>
<line x1="196.80" y1="345.90" x2="211.20" y2="345.90" stroke="#2a2458" stroke-width="1.5"/>
<text transform="translate(213.00,349.97) scale(0.685,1)" class="lg" font-size="10.3">CaTiO<tspan font-size="6" dy="1.7">3</tspan></text>
<rect x="191.80" y="213.50" width="148.60" height="168.30" fill="none" stroke="#000" stroke-width="1.3"/>
<line x1="266.10" y1="213.50" x2="266.10" y2="381.80" stroke="#b84c5a" stroke-width="1.45" stroke-dasharray="5.8 5.3" stroke-dashoffset="7.30"/>
<text transform="translate(191.20,394.50) scale(0.78,1)" class="xt" font-size="12.3" text-anchor="middle">-6</text>
<text transform="translate(215.97,394.50) scale(0.78,1)" class="xt" font-size="12.3" text-anchor="middle">-4</text>
<text transform="translate(240.73,394.50) scale(0.78,1)" class="xt" font-size="12.3" text-anchor="middle">-2</text>
<text transform="translate(266.10,394.50) scale(0.78,1)" class="xt" font-size="12.3" text-anchor="middle">0</text>
<text transform="translate(290.87,394.50) scale(0.78,1)" class="xt" font-size="12.3" text-anchor="middle">2</text>
<text transform="translate(315.63,394.50) scale(0.78,1)" class="xt" font-size="12.3" text-anchor="middle">4</text>
<text transform="translate(340.40,394.50) scale(0.78,1)" class="xt" font-size="12.3" text-anchor="middle">6</text>
<text transform="translate(266.50,406.20) scale(0.78,1)" class="xl" font-size="12.2" text-anchor="middle">Energy, E (eV)</text>
<text transform="translate(294.70,226.10) scale(0.8,1)" class="pl" font-size="12.3" text-anchor="middle">(e)</text>
<line x1="369.60" y1="254.60" x2="371.80" y2="254.60" stroke="#111" stroke-width="1"/>
<text transform="translate(368.00,258.33) scale(0.79,1)" class="yt" font-size="11.3" text-anchor="end">0.00</text>
<line x1="369.60" y1="235.81" x2="371.80" y2="235.81" stroke="#111" stroke-width="1"/>
<text transform="translate(368.00,239.53) scale(0.79,1)" class="yt" font-size="11.3" text-anchor="end">0.05</text>
<line x1="369.60" y1="217.01" x2="371.80" y2="217.01" stroke="#111" stroke-width="1"/>
<text transform="translate(368.00,220.74) scale(0.79,1)" class="yt" font-size="11.3" text-anchor="end">0.10</text>
<line x1="381.63" y1="254.60" x2="381.63" y2="252.40" stroke="#111" stroke-width="0.9"/>
<line x1="393.67" y1="254.60" x2="393.67" y2="252.40" stroke="#111" stroke-width="0.9"/>
<line x1="405.70" y1="254.60" x2="405.70" y2="252.40" stroke="#111" stroke-width="0.9"/>
<line x1="417.73" y1="254.60" x2="417.73" y2="252.40" stroke="#111" stroke-width="0.9"/>
<line x1="429.77" y1="254.60" x2="429.77" y2="252.40" stroke="#111" stroke-width="0.9"/>
<line x1="441.80" y1="254.60" x2="441.80" y2="252.40" stroke="#111" stroke-width="0.9"/>
<line x1="453.83" y1="254.60" x2="453.83" y2="252.40" stroke="#111" stroke-width="0.9"/>
<line x1="465.87" y1="254.60" x2="465.87" y2="252.40" stroke="#111" stroke-width="0.9"/>
<line x1="477.90" y1="254.60" x2="477.90" y2="252.40" stroke="#111" stroke-width="0.9"/>
<line x1="489.93" y1="254.60" x2="489.93" y2="252.40" stroke="#111" stroke-width="0.9"/>
<line x1="501.97" y1="254.60" x2="501.97" y2="252.40" stroke="#111" stroke-width="0.9"/>
<line x1="369.60" y1="254.60" x2="514.00" y2="254.60" stroke="#111" stroke-width="1.2"/>
<path d="M369.6,254.6 L388.6,254.5 L390.1,253.9 L400.0,245.0 L400.9,243.8 L404.5,234.2 L404.8,233.6 L405.1,233.3 L405.4,233.3 L405.7,233.6 L406.3,235.1 L408.4,242.2 L410.5,246.8 L411.4,248.1 L416.5,249.9 L429.5,249.0 L432.5,249.9 L437.3,254.1 L438.5,254.6 L514.0,254.6" fill="none" stroke="#a83cb8" stroke-width="1.4" stroke-linejoin="round"/>
<path d="M369.6,254.6 L386.7,254.5 L387.3,254.3 L388.3,253.4 L394.9,239.8 L396.1,236.4 L399.7,218.8 L400.0,217.7 L400.3,217.1 L400.6,216.9 L400.9,217.2 L401.5,219.1 L406.3,243.6 L407.5,247.8 L408.1,249.3 L408.7,250.0 L409.0,250.1 L409.3,249.9 L409.6,249.4 L410.2,247.5 L413.2,232.1 L415.3,225.6 L415.9,224.3 L416.5,223.7 L416.8,223.7 L417.1,223.8 L417.7,224.7 L421.3,235.9 L421.9,237.0 L423.1,238.1 L425.3,239.4 L426.5,240.8 L433.7,252.7 L435.2,254.1 L436.4,254.6 L473.7,254.5 L475.2,253.8 L478.8,250.3 L482.1,244.7 L485.7,234.2 L486.3,233.0 L486.9,232.3 L487.2,232.3 L487.5,232.4 L488.1,233.1 L494.7,250.8 L495.6,252.3 L497.8,254.0 L499.3,254.5 L509.2,254.6 L509.8,254.4 L510.1,254.0 L510.7,252.6 L513.7,238.0 L514.0,236.9" fill="none" stroke="#2a2458" stroke-width="1.4" stroke-linejoin="round"/>
<line x1="369.60" y1="254.60" x2="387.65" y2="254.60" stroke="#7a3a9a" stroke-width="1.45"/>
<line x1="435.18" y1="254.60" x2="474.89" y2="254.60" stroke="#7a3a9a" stroke-width="1.45"/>
<line x1="498.06" y1="254.60" x2="510.09" y2="254.60" stroke="#7a3a9a" stroke-width="1.45"/>
<line x1="369.60" y1="254.60" x2="514.00" y2="254.60" stroke="#000" stroke-opacity="0.3" stroke-width="1.3"/>
<line x1="451.00" y1="218.80" x2="464.80" y2="218.80" stroke="#2a2458" stroke-width="1.5"/>
<text transform="translate(466.60,222.10) scale(0.64,1)" class="lg" font-size="10.5">Sr-5s</text>
<line x1="451.00" y1="230.50" x2="464.80" y2="230.50" stroke="#a83cb8" stroke-width="1.5"/>
<text transform="translate(466.60,233.80) scale(0.64,1)" class="lg" font-size="10.5">Sr-4p</text>
<line x1="369.60" y1="297.00" x2="371.80" y2="297.00" stroke="#111" stroke-width="1"/>
<text transform="translate(368.00,300.73) scale(0.79,1)" class="yt" font-size="11.3" text-anchor="end">0</text>
<line x1="369.60" y1="281.47" x2="371.80" y2="281.47" stroke="#111" stroke-width="1"/>
<text transform="translate(368.00,285.20) scale(0.79,1)" class="yt" font-size="11.3" text-anchor="end">2</text>
<line x1="369.60" y1="265.94" x2="371.80" y2="265.94" stroke="#111" stroke-width="1"/>
<text transform="translate(368.00,269.67) scale(0.79,1)" class="yt" font-size="11.3" text-anchor="end">4</text>
<line x1="381.63" y1="297.00" x2="381.63" y2="294.80" stroke="#111" stroke-width="0.9"/>
<line x1="393.67" y1="297.00" x2="393.67" y2="294.80" stroke="#111" stroke-width="0.9"/>
<line x1="405.70" y1="297.00" x2="405.70" y2="294.80" stroke="#111" stroke-width="0.9"/>
<line x1="417.73" y1="297.00" x2="417.73" y2="294.80" stroke="#111" stroke-width="0.9"/>
<line x1="429.77" y1="297.00" x2="429.77" y2="294.80" stroke="#111" stroke-width="0.9"/>
<line x1="441.80" y1="297.00" x2="441.80" y2="294.80" stroke="#111" stroke-width="0.9"/>
<line x1="453.83" y1="297.00" x2="453.83" y2="294.80" stroke="#111" stroke-width="0.9"/>
<line x1="465.87" y1="297.00" x2="465.87" y2="294.80" stroke="#111" stroke-width="0.9"/>
<line x1="477.90" y1="297.00" x2="477.90" y2="294.80" stroke="#111" stroke-width="0.9"/>
<line x1="489.93" y1="297.00" x2="489.93" y2="294.80" stroke="#111" stroke-width="0.9"/>
<line x1="501.97" y1="297.00" x2="501.97" y2="294.80" stroke="#111" stroke-width="0.9"/>
<line x1="369.60" y1="297.00" x2="514.00" y2="297.00" stroke="#111" stroke-width="1.2"/>
<path d="M369.6,297.0 L388.0,296.8 L393.4,295.5 L514.0,297.0" fill="none" stroke="#4a2a22" stroke-width="1.4" stroke-linejoin="round"/>
<path d="M369.6,297.0 L389.2,296.6 L394.3,295.9 L400.3,296.6 L407.5,294.5 L417.7,297.0 L514.0,297.0" fill="none" stroke="#5030b0" stroke-width="1.4" stroke-linejoin="round"/>
<path d="M369.6,297.0 L388.0,297.0 L388.6,296.8 L389.2,296.2 L393.4,289.6 L394.3,288.7 L394.9,288.4 L395.8,288.4 L399.7,290.9 L401.2,291.1 L405.7,290.2 L407.2,290.6 L415.9,295.2 L463.8,296.9 L467.7,294.7 L470.7,291.1 L472.2,288.3 L474.6,282.4 L475.2,281.5 L475.8,281.1 L476.4,281.1 L477.3,281.9 L480.3,286.4 L480.9,286.8 L481.2,286.8 L481.5,286.6 L481.8,286.1 L482.4,283.9 L485.4,268.1 L486.0,265.8 L486.3,265.0 L486.6,264.6 L486.9,264.4 L487.2,264.6 L487.8,265.7 L493.8,287.7 L494.4,289.0 L495.0,289.8 L495.6,290.0 L499.6,289.7 L500.5,289.9 L505.0,294.3 L505.9,294.7 L506.5,294.6 L507.1,294.1 L510.1,289.1 L510.7,288.5 L511.3,288.2 L512.5,288.3 L514.0,289.1" fill="none" stroke="#a0d860" stroke-width="1.4" stroke-linejoin="round"/>
<line x1="369.60" y1="297.00" x2="389.15" y2="297.00" stroke="#a0d860" stroke-width="1.45"/>
<line x1="432.17" y1="297.00" x2="465.27" y2="297.00" stroke="#a0d860" stroke-width="1.45"/>
<line x1="369.60" y1="297.00" x2="514.00" y2="297.00" stroke="#000" stroke-opacity="0.3" stroke-width="1.3"/>
<line x1="374.50" y1="260.90" x2="388.30" y2="260.90" stroke="#4a2a22" stroke-width="1.5"/>
<text transform="translate(390.10,264.20) scale(0.64,1)" class="lg" font-size="10.5">Ti-4s</text>
<line x1="374.50" y1="272.50" x2="388.30" y2="272.50" stroke="#5030b0" stroke-width="1.5"/>
<text transform="translate(390.10,275.80) scale(0.64,1)" class="lg" font-size="10.5">Ti-3p</text>
<line x1="374.50" y1="283.70" x2="388.30" y2="283.70" stroke="#a0d860" stroke-width="1.5"/>
<text transform="translate(390.10,287.00) scale(0.64,1)" class="lg" font-size="10.5">Ti-3d</text>
<line x1="369.60" y1="339.20" x2="371.80" y2="339.20" stroke="#111" stroke-width="1"/>
<text transform="translate(368.00,342.93) scale(0.79,1)" class="yt" font-size="11.3" text-anchor="end">0</text>
<line x1="369.60" y1="323.38" x2="371.80" y2="323.38" stroke="#111" stroke-width="1"/>
<text transform="translate(368.00,327.10) scale(0.79,1)" class="yt" font-size="11.3" text-anchor="end">3</text>
<line x1="369.60" y1="307.55" x2="371.80" y2="307.55" stroke="#111" stroke-width="1"/>
<text transform="translate(368.00,311.28) scale(0.79,1)" class="yt" font-size="11.3" text-anchor="end">6</text>
<line x1="381.63" y1="339.20" x2="381.63" y2="337.00" stroke="#111" stroke-width="0.9"/>
<line x1="393.67" y1="339.20" x2="393.67" y2="337.00" stroke="#111" stroke-width="0.9"/>
<line x1="405.70" y1="339.20" x2="405.70" y2="337.00" stroke="#111" stroke-width="0.9"/>
<line x1="417.73" y1="339.20" x2="417.73" y2="337.00" stroke="#111" stroke-width="0.9"/>
<line x1="429.77" y1="339.20" x2="429.77" y2="337.00" stroke="#111" stroke-width="0.9"/>
<line x1="441.80" y1="339.20" x2="441.80" y2="337.00" stroke="#111" stroke-width="0.9"/>
<line x1="453.83" y1="339.20" x2="453.83" y2="337.00" stroke="#111" stroke-width="0.9"/>
<line x1="465.87" y1="339.20" x2="465.87" y2="337.00" stroke="#111" stroke-width="0.9"/>
<line x1="477.90" y1="339.20" x2="477.90" y2="337.00" stroke="#111" stroke-width="0.9"/>
<line x1="489.93" y1="339.20" x2="489.93" y2="337.00" stroke="#111" stroke-width="0.9"/>
<line x1="501.97" y1="339.20" x2="501.97" y2="337.00" stroke="#111" stroke-width="0.9"/>
<line x1="369.60" y1="339.20" x2="514.00" y2="339.20" stroke="#111" stroke-width="1.2"/>
<path d="M369.6,339.2 L467.4,339.0 L472.8,338.2 L514.0,339.2" fill="none" stroke="#c03070" stroke-width="1.4" stroke-linejoin="round"/>
<path d="M369.6,339.2 L385.2,339.1 L385.8,338.8 L386.4,338.0 L392.5,323.3 L393.4,321.9 L394.0,321.5 L394.6,321.6 L397.9,325.3 L398.5,325.5 L399.1,325.4 L400.0,324.5 L405.4,315.4 L406.0,314.8 L406.6,314.5 L407.2,314.7 L408.1,315.5 L412.3,322.5 L417.4,327.8 L418.9,328.6 L420.1,328.7 L421.6,328.1 L426.2,322.9 L427.4,320.8 L430.7,310.6 L431.3,309.3 L431.6,308.9 L431.9,308.7 L432.2,308.8 L432.5,309.0 L433.1,310.3 L437.3,325.1 L438.5,327.9 L442.1,332.3 L444.8,338.0 L445.4,338.8 L446.0,339.1 L480.6,339.1 L481.8,338.4 L485.1,335.1 L486.0,334.6 L486.9,334.6 L488.4,335.4 L492.0,338.6 L493.2,339.1 L514.0,339.2" fill="none" stroke="#457a32" stroke-width="1.4" stroke-linejoin="round"/>
<line x1="369.60" y1="339.20" x2="386.15" y2="339.20" stroke="#457a32" stroke-width="1.45"/>
<line x1="445.41" y1="339.20" x2="481.51" y2="339.20" stroke="#457a32" stroke-width="1.45"/>
<line x1="492.34" y1="339.20" x2="514.00" y2="339.20" stroke="#457a32" stroke-width="1.45"/>
<line x1="369.60" y1="339.20" x2="514.00" y2="339.20" stroke="#000" stroke-opacity="0.3" stroke-width="1.3"/>
<line x1="374.50" y1="303.40" x2="388.30" y2="303.40" stroke="#c03070" stroke-width="1.5"/>
<text transform="translate(390.10,306.70) scale(0.64,1)" class="lg" font-size="10.5">O-2s</text>
<line x1="374.50" y1="314.90" x2="388.30" y2="314.90" stroke="#457a32" stroke-width="1.5"/>
<text transform="translate(390.10,318.20) scale(0.64,1)" class="lg" font-size="10.5">O-2p</text>
<line x1="369.60" y1="381.80" x2="371.80" y2="381.80" stroke="#111" stroke-width="1"/>
<text transform="translate(368.00,385.53) scale(0.79,1)" class="yt" font-size="11.3" text-anchor="end">0</text>
<line x1="369.60" y1="366.02" x2="371.80" y2="366.02" stroke="#111" stroke-width="1"/>
<text transform="translate(368.00,369.75) scale(0.79,1)" class="yt" font-size="11.3" text-anchor="end">3</text>
<line x1="369.60" y1="350.24" x2="371.80" y2="350.24" stroke="#111" stroke-width="1"/>
<text transform="translate(368.00,353.97) scale(0.79,1)" class="yt" font-size="11.3" text-anchor="end">6</text>
<line x1="381.63" y1="381.80" x2="381.63" y2="379.60" stroke="#111" stroke-width="0.9"/>
<line x1="393.67" y1="381.80" x2="393.67" y2="379.60" stroke="#111" stroke-width="0.9"/>
<line x1="405.70" y1="381.80" x2="405.70" y2="379.60" stroke="#111" stroke-width="0.9"/>
<line x1="417.73" y1="381.80" x2="417.73" y2="379.60" stroke="#111" stroke-width="0.9"/>
<line x1="429.77" y1="381.80" x2="429.77" y2="379.60" stroke="#111" stroke-width="0.9"/>
<line x1="441.80" y1="381.80" x2="441.80" y2="379.60" stroke="#111" stroke-width="0.9"/>
<line x1="453.83" y1="381.80" x2="453.83" y2="379.60" stroke="#111" stroke-width="0.9"/>
<line x1="465.87" y1="381.80" x2="465.87" y2="379.60" stroke="#111" stroke-width="0.9"/>
<line x1="477.90" y1="381.80" x2="477.90" y2="379.60" stroke="#111" stroke-width="0.9"/>
<line x1="489.93" y1="381.80" x2="489.93" y2="379.60" stroke="#111" stroke-width="0.9"/>
<line x1="501.97" y1="381.80" x2="501.97" y2="379.60" stroke="#111" stroke-width="0.9"/>
<path d="M369.6,381.8 L385.2,381.7 L385.8,381.3 L386.4,380.3 L390.7,366.1 L392.8,357.8 L393.4,356.4 L393.7,356.0 L394.0,355.8 L394.3,355.7 L394.9,356.1 L397.9,360.8 L398.5,361.3 L398.8,361.5 L399.1,361.4 L399.4,361.2 L400.0,360.3 L403.0,352.1 L405.1,348.6 L405.7,348.1 L406.3,347.9 L406.9,348.2 L407.8,349.5 L412.3,360.2 L417.1,367.2 L418.6,368.5 L419.5,368.8 L420.7,368.7 L422.2,367.6 L426.5,361.7 L427.4,359.9 L430.7,348.6 L431.3,347.4 L431.6,347.2 L431.9,347.2 L432.2,347.5 L432.8,349.3 L435.2,361.8 L436.1,364.7 L438.8,369.5 L441.8,373.2 L443.0,375.6 L444.8,380.3 L445.4,381.3 L446.0,381.7 L464.7,381.6 L469.2,379.4 L470.4,378.3 L474.9,369.6 L475.8,368.6 L476.4,368.3 L477.0,368.3 L477.9,369.0 L480.3,371.7 L480.9,372.0 L481.2,371.9 L481.5,371.7 L482.1,370.5 L485.7,354.8 L486.3,353.0 L486.6,352.4 L486.9,352.0 L487.2,351.9 L487.5,352.1 L488.1,353.0 L493.8,372.1 L494.4,373.3 L495.0,373.9 L500.8,374.8 L505.3,377.8 L506.2,378.0 L506.8,378.0 L507.7,377.4 L511.3,372.9 L512.2,372.3 L512.8,372.3 L514.0,372.7" fill="none" stroke="#2a2458" stroke-width="1.4" stroke-linejoin="round"/>
<line x1="369.60" y1="381.80" x2="386.15" y2="381.80" stroke="#2a2458" stroke-width="1.45"/>
<line x1="445.41" y1="381.80" x2="465.87" y2="381.80" stroke="#2a2458" stroke-width="1.45"/>
<line x1="369.60" y1="381.80" x2="514.00" y2="381.80" stroke="#000" stroke-opacity="0.3" stroke-width="1.3"/>
<line x1="446.00" y1="346.30" x2="459.80" y2="346.30" stroke="#2a2458" stroke-width="1.5"/>
<text transform="translate(461.60,349.60) scale(0.64,1)" class="lg" font-size="10.5">SrTiO<tspan font-size="6" dy="1.7">3</tspan></text>
<rect x="369.60" y="212.50" width="144.40" height="169.30" fill="none" stroke="#000" stroke-width="1.3"/>
<line x1="441.80" y1="212.50" x2="441.80" y2="381.80" stroke="#b84c5a" stroke-width="1.45" stroke-dasharray="5.8 5.3" stroke-dashoffset="7.30"/>
<text transform="translate(369.00,395.20) scale(0.79,1)" class="xt" font-size="11.3" text-anchor="middle">-6</text>
<text transform="translate(393.07,395.20) scale(0.79,1)" class="xt" font-size="11.3" text-anchor="middle">-4</text>
<text transform="translate(417.13,395.20) scale(0.79,1)" class="xt" font-size="11.3" text-anchor="middle">-2</text>
<text transform="translate(441.80,395.20) scale(0.79,1)" class="xt" font-size="11.3" text-anchor="middle">0</text>
<text transform="translate(465.87,395.20) scale(0.79,1)" class="xt" font-size="11.3" text-anchor="middle">2</text>
<text transform="translate(489.93,395.20) scale(0.79,1)" class="xt" font-size="11.3" text-anchor="middle">4</text>
<text transform="translate(514.00,395.20) scale(0.79,1)" class="xt" font-size="11.3" text-anchor="middle">6</text>
<text transform="translate(441.90,406.20) scale(0.78,1)" class="xl" font-size="11.7" text-anchor="middle">Energy, E (eV)</text>
<text transform="translate(507.30,225.10) scale(0.8,1)" class="pl" font-size="12" text-anchor="middle">(f)</text>
<line x1="25.85" y1="469.00" x2="28.05" y2="469.00" stroke="#111" stroke-width="1"/>
<text transform="translate(24.25,472.73) scale(0.69,1)" class="yt" font-size="11.3" text-anchor="end">0.00</text>
<line x1="25.85" y1="455.50" x2="28.05" y2="455.50" stroke="#111" stroke-width="1"/>
<text transform="translate(24.25,459.23) scale(0.69,1)" class="yt" font-size="11.3" text-anchor="end">0.05</text>
<line x1="25.85" y1="442.00" x2="28.05" y2="442.00" stroke="#111" stroke-width="1"/>
<text transform="translate(24.25,445.73) scale(0.69,1)" class="yt" font-size="11.3" text-anchor="end">0.10</text>
<line x1="25.85" y1="428.50" x2="28.05" y2="428.50" stroke="#111" stroke-width="1"/>
<text transform="translate(24.25,432.23) scale(0.69,1)" class="yt" font-size="11.3" text-anchor="end">0.15</text>
<line x1="37.49" y1="469.00" x2="37.49" y2="466.80" stroke="#111" stroke-width="0.9"/>
<line x1="49.12" y1="469.00" x2="49.12" y2="466.80" stroke="#111" stroke-width="0.9"/>
<line x1="60.76" y1="469.00" x2="60.76" y2="466.80" stroke="#111" stroke-width="0.9"/>
<line x1="72.40" y1="469.00" x2="72.40" y2="466.80" stroke="#111" stroke-width="0.9"/>
<line x1="84.04" y1="469.00" x2="84.04" y2="466.80" stroke="#111" stroke-width="0.9"/>
<line x1="95.68" y1="469.00" x2="95.68" y2="466.80" stroke="#111" stroke-width="0.9"/>
<line x1="107.31" y1="469.00" x2="107.31" y2="466.80" stroke="#111" stroke-width="0.9"/>
<line x1="118.95" y1="469.00" x2="118.95" y2="466.80" stroke="#111" stroke-width="0.9"/>
<line x1="130.59" y1="469.00" x2="130.59" y2="466.80" stroke="#111" stroke-width="0.9"/>
<line x1="142.23" y1="469.00" x2="142.23" y2="466.80" stroke="#111" stroke-width="0.9"/>
<line x1="153.86" y1="469.00" x2="153.86" y2="466.80" stroke="#111" stroke-width="0.9"/>
<line x1="25.85" y1="469.00" x2="165.50" y2="469.00" stroke="#111" stroke-width="1.2"/>
<path d="M25.9,469.0 L53.5,468.9 L54.4,468.5 L57.3,464.9 L59.0,461.4 L60.2,457.7 L62.8,447.3 L63.7,445.1 L64.0,444.7 L64.3,444.5 L64.5,444.6 L64.8,444.9 L65.4,446.3 L69.5,462.9 L70.1,464.4 L70.4,464.8 L70.7,464.9 L70.9,464.8 L71.5,464.1 L77.9,446.2 L78.5,445.2 L78.8,444.9 L79.1,444.7 L79.4,444.7 L79.7,445.0 L80.3,446.0 L84.0,457.8 L86.4,461.5 L92.2,468.3 L93.1,468.8 L153.0,468.9 L153.6,468.6 L154.2,467.9 L157.6,457.2 L159.4,451.0 L160.6,448.8 L161.4,447.8 L162.0,447.6 L162.3,447.7 L162.9,448.4 L165.5,453.7" fill="none" stroke="#2a2458" stroke-width="1.4" stroke-linejoin="round"/>
<path d="M25.9,469.0 L53.2,468.9 L58.4,465.3 L60.8,462.4 L62.2,459.5 L65.4,448.3 L68.3,434.3 L68.9,432.5 L69.2,431.9 L69.5,431.8 L69.8,431.9 L70.4,433.3 L73.6,448.1 L75.9,454.0 L80.0,459.3 L81.7,460.6 L82.6,460.8 L83.2,460.7 L84.0,460.1 L86.7,456.5 L87.2,456.0 L87.8,455.9 L88.4,456.3 L89.3,457.8 L91.9,464.1 L94.5,468.1 L95.4,468.8 L165.5,469.0" fill="none" stroke="#a83cb8" stroke-width="1.4" stroke-linejoin="round"/>
<line x1="25.85" y1="469.00" x2="54.36" y2="469.00" stroke="#a83cb8" stroke-width="1.45"/>
<line x1="95.09" y1="469.00" x2="165.50" y2="469.00" stroke="#a83cb8" stroke-width="1.45"/>
<line x1="25.85" y1="469.00" x2="165.50" y2="469.00" stroke="#000" stroke-opacity="0.3" stroke-width="1.3"/>
<line x1="32.20" y1="430.90" x2="44.50" y2="430.90" stroke="#2a2458" stroke-width="1.5"/>
<text transform="translate(46.10,433.64) scale(0.71,1)" class="lg" font-size="7.6">Ba-6s</text>
<line x1="32.20" y1="441.00" x2="44.50" y2="441.00" stroke="#a83cb8" stroke-width="1.5"/>
<text transform="translate(46.10,443.74) scale(0.71,1)" class="lg" font-size="7.6">Ba-5p</text>
<line x1="25.85" y1="512.20" x2="28.05" y2="512.20" stroke="#111" stroke-width="1"/>
<text transform="translate(24.25,515.93) scale(0.69,1)" class="yt" font-size="11.3" text-anchor="end">0.0</text>
<line x1="25.85" y1="496.20" x2="28.05" y2="496.20" stroke="#111" stroke-width="1"/>
<text transform="translate(24.25,499.93) scale(0.69,1)" class="yt" font-size="11.3" text-anchor="end">1.5</text>
<line x1="25.85" y1="480.20" x2="28.05" y2="480.20" stroke="#111" stroke-width="1"/>
<text transform="translate(24.25,483.93) scale(0.69,1)" class="yt" font-size="11.3" text-anchor="end">3.0</text>
<line x1="37.49" y1="512.20" x2="37.49" y2="510.00" stroke="#111" stroke-width="0.9"/>
<line x1="49.12" y1="512.20" x2="49.12" y2="510.00" stroke="#111" stroke-width="0.9"/>
<line x1="60.76" y1="512.20" x2="60.76" y2="510.00" stroke="#111" stroke-width="0.9"/>
<line x1="72.40" y1="512.20" x2="72.40" y2="510.00" stroke="#111" stroke-width="0.9"/>
<line x1="84.04" y1="512.20" x2="84.04" y2="510.00" stroke="#111" stroke-width="0.9"/>
<line x1="95.68" y1="512.20" x2="95.68" y2="510.00" stroke="#111" stroke-width="0.9"/>
<line x1="107.31" y1="512.20" x2="107.31" y2="510.00" stroke="#111" stroke-width="0.9"/>
<line x1="118.95" y1="512.20" x2="118.95" y2="510.00" stroke="#111" stroke-width="0.9"/>
<line x1="130.59" y1="512.20" x2="130.59" y2="510.00" stroke="#111" stroke-width="0.9"/>
<line x1="142.23" y1="512.20" x2="142.23" y2="510.00" stroke="#111" stroke-width="0.9"/>
<line x1="153.86" y1="512.20" x2="153.86" y2="510.00" stroke="#111" stroke-width="0.9"/>
<line x1="25.85" y1="512.20" x2="165.50" y2="512.20" stroke="#111" stroke-width="1.2"/>
<path d="M25.9,512.2 L51.7,512.0 L57.0,510.6 L64.0,511.6 L72.4,510.7 L155.3,512.0 L163.8,511.4 L165.5,511.6" fill="none" stroke="#70409a" stroke-width="1.4" stroke-linejoin="round"/>
<path d="M25.9,512.2 L50.9,512.1 L56.4,509.2 L57.9,509.1 L62.5,511.0 L65.4,510.7 L71.5,508.2 L73.0,508.3 L77.6,511.0 L155.3,512.0 L165.5,511.1" fill="none" stroke="#b07040" stroke-width="1.4" stroke-linejoin="round"/>
<path d="M25.9,512.2 L50.9,512.2 L51.5,511.8 L52.0,510.9 L55.8,501.8 L56.7,500.4 L57.3,500.0 L57.9,499.9 L58.4,500.3 L61.6,505.5 L62.2,506.0 L62.8,506.1 L64.0,505.7 L70.4,500.8 L71.2,500.6 L71.8,500.6 L72.4,501.0 L78.2,509.4 L79.7,510.6 L83.7,511.6 L89.0,511.2 L130.0,512.1 L139.0,508.0 L139.6,507.4 L140.8,504.7 L142.8,499.2 L144.8,495.8 L145.4,495.2 L146.0,495.0 L146.6,495.2 L148.0,496.5 L153.3,504.4 L153.9,504.7 L154.2,504.6 L154.4,504.2 L155.0,502.2 L158.5,480.5 L159.4,477.0 L159.7,476.4 L160.0,476.1 L160.3,476.2 L160.6,476.7 L161.4,479.8 L165.2,497.8 L165.5,498.8" fill="none" stroke="#a455d0" stroke-width="1.4" stroke-linejoin="round"/>
<line x1="25.85" y1="512.20" x2="51.74" y2="512.20" stroke="#a455d0" stroke-width="1.45"/>
<line x1="91.02" y1="512.20" x2="131.46" y2="512.20" stroke="#a455d0" stroke-width="1.45"/>
<line x1="25.85" y1="512.20" x2="165.50" y2="512.20" stroke="#000" stroke-opacity="0.3" stroke-width="1.3"/>
<line x1="32.20" y1="473.90" x2="44.50" y2="473.90" stroke="#70409a" stroke-width="1.5"/>
<text transform="translate(46.10,476.64) scale(0.71,1)" class="lg" font-size="7.6">Zr-5s</text>
<line x1="32.20" y1="484.80" x2="44.50" y2="484.80" stroke="#b07040" stroke-width="1.5"/>
<text transform="translate(46.10,487.54) scale(0.71,1)" class="lg" font-size="7.6">Zr-4p</text>
<line x1="32.20" y1="495.60" x2="44.50" y2="495.60" stroke="#a455d0" stroke-width="1.5"/>
<text transform="translate(46.10,498.34) scale(0.71,1)" class="lg" font-size="7.6">Zr-4d</text>
<line x1="25.85" y1="555.50" x2="28.05" y2="555.50" stroke="#111" stroke-width="1"/>
<text transform="translate(24.25,559.23) scale(0.69,1)" class="yt" font-size="11.3" text-anchor="end">0</text>
<line x1="25.85" y1="538.52" x2="28.05" y2="538.52" stroke="#111" stroke-width="1"/>
<text transform="translate(24.25,542.25) scale(0.69,1)" class="yt" font-size="11.3" text-anchor="end">4</text>
<line x1="25.85" y1="521.54" x2="28.05" y2="521.54" stroke="#111" stroke-width="1"/>
<text transform="translate(24.25,525.27) scale(0.69,1)" class="yt" font-size="11.3" text-anchor="end">8</text>
<line x1="37.49" y1="555.50" x2="37.49" y2="553.30" stroke="#111" stroke-width="0.9"/>
<line x1="49.12" y1="555.50" x2="49.12" y2="553.30" stroke="#111" stroke-width="0.9"/>
<line x1="60.76" y1="555.50" x2="60.76" y2="553.30" stroke="#111" stroke-width="0.9"/>
<line x1="72.40" y1="555.50" x2="72.40" y2="553.30" stroke="#111" stroke-width="0.9"/>
<line x1="84.04" y1="555.50" x2="84.04" y2="553.30" stroke="#111" stroke-width="0.9"/>
<line x1="95.68" y1="555.50" x2="95.68" y2="553.30" stroke="#111" stroke-width="0.9"/>
<line x1="107.31" y1="555.50" x2="107.31" y2="553.30" stroke="#111" stroke-width="0.9"/>
<line x1="118.95" y1="555.50" x2="118.95" y2="553.30" stroke="#111" stroke-width="0.9"/>
<line x1="130.59" y1="555.50" x2="130.59" y2="553.30" stroke="#111" stroke-width="0.9"/>
<line x1="142.23" y1="555.50" x2="142.23" y2="553.30" stroke="#111" stroke-width="0.9"/>
<line x1="153.86" y1="555.50" x2="153.86" y2="553.30" stroke="#111" stroke-width="0.9"/>
<line x1="25.85" y1="555.50" x2="165.50" y2="555.50" stroke="#111" stroke-width="1.2"/>
<path d="M25.9,555.5 L165.5,555.0" fill="none" stroke="#c03070" stroke-width="1.4" stroke-linejoin="round"/>
<path d="M25.9,555.5 L50.9,555.5 L51.5,555.2 L52.0,554.3 L56.4,541.1 L57.3,539.3 L57.9,538.8 L58.1,538.7 L58.4,538.9 L59.0,539.6 L61.9,546.6 L62.5,547.5 L62.8,547.7 L63.1,547.7 L63.7,547.4 L64.5,546.0 L68.6,536.0 L71.2,531.4 L72.1,530.5 L72.7,530.2 L73.3,530.3 L74.1,531.0 L79.7,540.9 L80.5,541.9 L81.1,542.3 L81.7,542.3 L82.3,541.8 L83.2,540.2 L88.1,526.6 L88.7,525.6 L89.0,525.3 L89.3,525.3 L89.6,525.5 L90.1,526.5 L95.7,545.2 L99.2,552.7 L100.6,554.8 L101.2,555.3 L154.2,555.4 L155.6,554.7 L159.1,551.7 L160.3,551.3 L162.6,551.8 L165.5,553.6" fill="none" stroke="#457a32" stroke-width="1.4" stroke-linejoin="round"/>
<line x1="25.85" y1="555.50" x2="51.74" y2="555.50" stroke="#457a32" stroke-width="1.45"/>
<line x1="100.91" y1="555.50" x2="155.32" y2="555.50" stroke="#457a32" stroke-width="1.45"/>
<line x1="25.85" y1="555.50" x2="165.50" y2="555.50" stroke="#000" stroke-opacity="0.3" stroke-width="1.3"/>
<line x1="31.50" y1="517.40" x2="43.80" y2="517.40" stroke="#c03070" stroke-width="1.5"/>
<text transform="translate(45.40,520.14) scale(0.71,1)" class="lg" font-size="7.6">O-2s</text>
<line x1="31.50" y1="527.80" x2="43.80" y2="527.80" stroke="#457a32" stroke-width="1.5"/>
<text transform="translate(45.40,530.54) scale(0.71,1)" class="lg" font-size="7.6">O-2p</text>
<line x1="25.85" y1="598.90" x2="28.05" y2="598.90" stroke="#111" stroke-width="1"/>
<text transform="translate(24.25,602.63) scale(0.69,1)" class="yt" font-size="11.3" text-anchor="end">0</text>
<line x1="25.85" y1="582.05" x2="28.05" y2="582.05" stroke="#111" stroke-width="1"/>
<text transform="translate(24.25,585.77) scale(0.69,1)" class="yt" font-size="11.3" text-anchor="end">4</text>
<line x1="25.85" y1="565.19" x2="28.05" y2="565.19" stroke="#111" stroke-width="1"/>
<text transform="translate(24.25,568.92) scale(0.69,1)" class="yt" font-size="11.3" text-anchor="end">8</text>
<line x1="37.49" y1="598.90" x2="37.49" y2="596.70" stroke="#111" stroke-width="0.9"/>
<line x1="49.12" y1="598.90" x2="49.12" y2="596.70" stroke="#111" stroke-width="0.9"/>
<line x1="60.76" y1="598.90" x2="60.76" y2="596.70" stroke="#111" stroke-width="0.9"/>
<line x1="72.40" y1="598.90" x2="72.40" y2="596.70" stroke="#111" stroke-width="0.9"/>
<line x1="84.04" y1="598.90" x2="84.04" y2="596.70" stroke="#111" stroke-width="0.9"/>
<line x1="95.68" y1="598.90" x2="95.68" y2="596.70" stroke="#111" stroke-width="0.9"/>
<line x1="107.31" y1="598.90" x2="107.31" y2="596.70" stroke="#111" stroke-width="0.9"/>
<line x1="118.95" y1="598.90" x2="118.95" y2="596.70" stroke="#111" stroke-width="0.9"/>
<line x1="130.59" y1="598.90" x2="130.59" y2="596.70" stroke="#111" stroke-width="0.9"/>
<line x1="142.23" y1="598.90" x2="142.23" y2="596.70" stroke="#111" stroke-width="0.9"/>
<line x1="153.86" y1="598.90" x2="153.86" y2="596.70" stroke="#111" stroke-width="0.9"/>
<path d="M25.9,598.9 L50.0,598.9 L50.6,598.6 L51.2,597.9 L57.0,577.6 L57.6,576.4 L57.9,576.1 L58.1,576.0 L58.4,576.2 L59.0,577.0 L62.2,587.1 L62.8,588.2 L63.1,588.4 L63.4,588.5 L63.7,588.4 L64.3,587.5 L68.3,573.2 L70.7,567.6 L71.2,566.7 L71.8,566.3 L72.1,566.2 L72.7,566.5 L73.6,567.6 L80.3,582.1 L81.1,583.3 L81.7,583.7 L82.0,583.8 L82.3,583.7 L82.9,583.0 L88.1,568.6 L88.7,567.5 L89.0,567.3 L89.3,567.2 L89.6,567.4 L90.1,568.4 L96.0,589.3 L100.0,597.4 L100.9,598.5 L101.5,598.8 L136.1,598.2 L138.7,597.4 L145.1,590.9 L146.0,590.6 L146.9,590.7 L152.7,594.6 L153.3,594.8 L153.6,594.7 L153.9,594.5 L154.4,593.5 L158.8,578.9 L159.4,577.5 L160.0,576.7 L160.3,576.6 L160.6,576.7 L161.1,577.5 L164.6,584.8 L165.5,586.0" fill="none" stroke="#2a2458" stroke-width="1.4" stroke-linejoin="round"/>
<line x1="25.85" y1="598.90" x2="50.87" y2="598.90" stroke="#2a2458" stroke-width="1.45"/>
<line x1="100.91" y1="598.90" x2="135.53" y2="598.90" stroke="#2a2458" stroke-width="1.45"/>
<line x1="25.85" y1="598.90" x2="165.50" y2="598.90" stroke="#000" stroke-opacity="0.3" stroke-width="1.3"/>
<line x1="31.50" y1="560.70" x2="43.80" y2="560.70" stroke="#2a2458" stroke-width="1.5"/>
<text transform="translate(45.40,563.44) scale(0.71,1)" class="lg" font-size="7.6">BaZrO<tspan font-size="5" dy="1.5">3</tspan></text>
<rect x="25.85" y="425.80" width="139.65" height="173.10" fill="none" stroke="#000" stroke-width="1.3"/>
<line x1="95.68" y1="425.80" x2="95.68" y2="598.90" stroke="#b84c5a" stroke-width="1.45" stroke-dasharray="5.8 5.3" stroke-dashoffset="7.30"/>
<text transform="translate(25.25,611.80) scale(0.69,1)" class="xt" font-size="11.3" text-anchor="middle">-6</text>
<text transform="translate(48.52,611.80) scale(0.69,1)" class="xt" font-size="11.3" text-anchor="middle">-4</text>
<text transform="translate(71.80,611.80) scale(0.69,1)" class="xt" font-size="11.3" text-anchor="middle">-2</text>
<text transform="translate(95.68,611.80) scale(0.69,1)" class="xt" font-size="11.3" text-anchor="middle">0</text>
<text transform="translate(118.95,611.80) scale(0.69,1)" class="xt" font-size="11.3" text-anchor="middle">2</text>
<text transform="translate(142.23,611.80) scale(0.69,1)" class="xt" font-size="11.3" text-anchor="middle">4</text>
<text transform="translate(165.50,611.80) scale(0.69,1)" class="xt" font-size="11.3" text-anchor="middle">6</text>
<text transform="translate(96.00,622.20) scale(0.78,1)" class="xl" font-size="10.3" text-anchor="middle">Energy, E (eV)</text>
<text transform="translate(128.40,438.50) scale(0.8,1)" class="pl" font-size="11.2" text-anchor="middle">(g)</text>
<text x="0" y="0" class="yl" font-size="11.25" text-anchor="middle" transform="translate(9.90,508.30) rotate(-90)" style="font-weight:normal;stroke-width:0.35px;fill:#333;stroke:#333">Density of States (states/eV)</text>
<line x1="192.90" y1="465.70" x2="195.10" y2="465.70" stroke="#111" stroke-width="1"/>
<text transform="translate(191.30,469.63) scale(0.76,1)" class="yt" font-size="11.9" text-anchor="end">0.0</text>
<line x1="192.90" y1="447.74" x2="195.10" y2="447.74" stroke="#111" stroke-width="1"/>
<text transform="translate(191.30,451.67) scale(0.76,1)" class="yt" font-size="11.9" text-anchor="end">0.3</text>
<line x1="192.90" y1="429.78" x2="195.10" y2="429.78" stroke="#111" stroke-width="1"/>
<text transform="translate(191.30,433.71) scale(0.76,1)" class="yt" font-size="11.9" text-anchor="end">0.6</text>
<line x1="205.03" y1="465.70" x2="205.03" y2="463.50" stroke="#111" stroke-width="0.9"/>
<line x1="217.17" y1="465.70" x2="217.17" y2="463.50" stroke="#111" stroke-width="0.9"/>
<line x1="229.30" y1="465.70" x2="229.30" y2="463.50" stroke="#111" stroke-width="0.9"/>
<line x1="241.43" y1="465.70" x2="241.43" y2="463.50" stroke="#111" stroke-width="0.9"/>
<line x1="253.57" y1="465.70" x2="253.57" y2="463.50" stroke="#111" stroke-width="0.9"/>
<line x1="265.70" y1="465.70" x2="265.70" y2="463.50" stroke="#111" stroke-width="0.9"/>
<line x1="277.83" y1="465.70" x2="277.83" y2="463.50" stroke="#111" stroke-width="0.9"/>
<line x1="289.97" y1="465.70" x2="289.97" y2="463.50" stroke="#111" stroke-width="0.9"/>
<line x1="302.10" y1="465.70" x2="302.10" y2="463.50" stroke="#111" stroke-width="0.9"/>
<line x1="314.23" y1="465.70" x2="314.23" y2="463.50" stroke="#111" stroke-width="0.9"/>
<line x1="326.37" y1="465.70" x2="326.37" y2="463.50" stroke="#111" stroke-width="0.9"/>
<line x1="192.90" y1="465.70" x2="338.50" y2="465.70" stroke="#111" stroke-width="1.2"/>
<path d="M192.9,465.7 L215.7,465.6 L219.6,463.4 L221.7,462.7 L222.6,462.0 L225.7,458.4 L226.3,458.0 L226.9,457.9 L227.5,458.3 L231.7,463.3 L232.9,464.1 L248.1,462.5 L253.9,465.5 L306.0,465.6 L311.8,463.6 L315.1,463.3 L315.8,462.9 L316.4,462.1 L323.6,443.0 L324.5,439.4 L327.0,426.5 L327.3,425.5 L327.6,425.1 L327.9,425.2 L328.2,425.6 L328.8,427.5 L329.7,431.8 L331.5,443.7 L333.6,452.7 L335.8,458.0 L337.3,460.4 L338.2,461.3 L338.5,461.4" fill="none" stroke="#2a2458" stroke-width="1.4" stroke-linejoin="round"/>
<path d="M192.9,465.7 L338.5,465.7" fill="none" stroke="#a83cb8" stroke-width="1.4" stroke-linejoin="round"/>
<line x1="192.90" y1="465.70" x2="221.41" y2="465.70" stroke="#a83cb8" stroke-width="1.45"/>
<line x1="244.47" y1="465.70" x2="338.50" y2="465.70" stroke="#a83cb8" stroke-width="1.45"/>
<line x1="192.90" y1="465.70" x2="338.50" y2="465.70" stroke="#000" stroke-opacity="0.3" stroke-width="1.3"/>
<line x1="197.80" y1="428.90" x2="212.00" y2="428.90" stroke="#2a2458" stroke-width="1.5"/>
<text transform="translate(213.70,433.10) scale(0.64,1)" class="lg" font-size="10.45">Ca-4s</text>
<line x1="197.80" y1="440.50" x2="212.00" y2="440.50" stroke="#a83cb8" stroke-width="1.5"/>
<text transform="translate(213.70,444.70) scale(0.64,1)" class="lg" font-size="10.45">Ca-3p</text>
<line x1="192.90" y1="508.70" x2="195.10" y2="508.70" stroke="#111" stroke-width="1"/>
<text transform="translate(191.30,512.63) scale(0.76,1)" class="yt" font-size="11.9" text-anchor="end">0.0</text>
<line x1="192.90" y1="497.50" x2="195.10" y2="497.50" stroke="#111" stroke-width="1"/>
<text transform="translate(191.30,501.43) scale(0.76,1)" class="yt" font-size="11.9" text-anchor="end">0.5</text>
<line x1="192.90" y1="486.30" x2="195.10" y2="486.30" stroke="#111" stroke-width="1"/>
<text transform="translate(191.30,490.23) scale(0.76,1)" class="yt" font-size="11.9" text-anchor="end">1.0</text>
<line x1="192.90" y1="475.11" x2="195.10" y2="475.11" stroke="#111" stroke-width="1"/>
<text transform="translate(191.30,479.03) scale(0.76,1)" class="yt" font-size="11.9" text-anchor="end">1.5</text>
<line x1="205.03" y1="508.70" x2="205.03" y2="506.50" stroke="#111" stroke-width="0.9"/>
<line x1="217.17" y1="508.70" x2="217.17" y2="506.50" stroke="#111" stroke-width="0.9"/>
<line x1="229.30" y1="508.70" x2="229.30" y2="506.50" stroke="#111" stroke-width="0.9"/>
<line x1="241.43" y1="508.70" x2="241.43" y2="506.50" stroke="#111" stroke-width="0.9"/>
<line x1="253.57" y1="508.70" x2="253.57" y2="506.50" stroke="#111" stroke-width="0.9"/>
<line x1="265.70" y1="508.70" x2="265.70" y2="506.50" stroke="#111" stroke-width="0.9"/>
<line x1="277.83" y1="508.70" x2="277.83" y2="506.50" stroke="#111" stroke-width="0.9"/>
<line x1="289.97" y1="508.70" x2="289.97" y2="506.50" stroke="#111" stroke-width="0.9"/>
<line x1="302.10" y1="508.70" x2="302.10" y2="506.50" stroke="#111" stroke-width="0.9"/>
<line x1="314.23" y1="508.70" x2="314.23" y2="506.50" stroke="#111" stroke-width="0.9"/>
<line x1="326.37" y1="508.70" x2="326.37" y2="506.50" stroke="#111" stroke-width="0.9"/>
<line x1="192.90" y1="508.70" x2="338.50" y2="508.70" stroke="#111" stroke-width="1.2"/>
<path d="M192.9,508.7 L338.5,508.7" fill="none" stroke="#70409a" stroke-width="1.4" stroke-linejoin="round"/>
<path d="M192.9,508.7 L216.3,508.5 L221.4,506.6 L223.8,505.1 L224.8,505.0 L228.7,506.8 L230.8,506.7 L235.1,504.8 L239.9,500.7 L241.1,500.3 L241.7,500.3 L242.6,500.9 L246.0,505.0 L249.6,507.2 L313.9,508.5 L328.2,505.4 L338.5,507.5" fill="none" stroke="#b07040" stroke-width="1.4" stroke-linejoin="round"/>
<path d="M192.9,508.7 L215.0,508.6 L215.7,508.2 L216.3,507.1 L219.6,492.9 L221.4,483.2 L222.0,481.1 L222.3,480.5 L222.6,480.2 L222.9,480.2 L223.2,480.5 L223.8,481.6 L226.6,489.4 L230.2,494.4 L232.9,499.7 L233.5,500.4 L234.2,500.7 L234.8,500.6 L236.3,499.4 L238.1,497.0 L239.9,493.7 L240.2,493.4 L240.5,493.3 L240.8,493.5 L241.4,494.5 L243.9,501.6 L245.7,504.9 L248.1,506.8 L250.8,507.5 L257.5,506.9 L262.7,508.6 L303.9,508.6 L305.1,508.2 L313.0,499.3 L313.9,497.5 L314.8,494.2 L316.4,487.2 L318.5,482.1 L319.7,480.2 L320.6,479.4 L321.2,479.3 L321.8,479.5 L322.7,480.5 L326.1,486.6 L327.0,487.5 L327.6,487.7 L328.2,487.4 L329.1,486.0 L332.4,477.7 L333.0,476.8 L333.3,476.6 L333.6,476.4 L334.0,476.5 L334.6,477.0 L337.0,482.7 L338.2,486.5 L338.5,487.2" fill="none" stroke="#a455d0" stroke-width="1.4" stroke-linejoin="round"/>
<line x1="192.90" y1="508.70" x2="215.95" y2="508.70" stroke="#a455d0" stroke-width="1.45"/>
<line x1="261.15" y1="508.70" x2="305.44" y2="508.70" stroke="#a455d0" stroke-width="1.45"/>
<line x1="192.90" y1="508.70" x2="338.50" y2="508.70" stroke="#000" stroke-opacity="0.3" stroke-width="1.3"/>
<line x1="275.80" y1="472.40" x2="290.00" y2="472.40" stroke="#70409a" stroke-width="1.5"/>
<text transform="translate(291.70,476.60) scale(0.64,1)" class="lg" font-size="10.45">Zr-5s</text>
<line x1="275.80" y1="484.30" x2="290.00" y2="484.30" stroke="#b07040" stroke-width="1.5"/>
<text transform="translate(291.70,488.50) scale(0.64,1)" class="lg" font-size="10.45">Zr-4p</text>
<line x1="275.80" y1="495.50" x2="290.00" y2="495.50" stroke="#a455d0" stroke-width="1.5"/>
<text transform="translate(291.70,499.70) scale(0.64,1)" class="lg" font-size="10.45">Zr-4d</text>
<line x1="192.90" y1="551.00" x2="195.10" y2="551.00" stroke="#111" stroke-width="1"/>
<text transform="translate(191.30,554.93) scale(0.76,1)" class="yt" font-size="11.9" text-anchor="end">0</text>
<line x1="192.90" y1="535.76" x2="195.10" y2="535.76" stroke="#111" stroke-width="1"/>
<text transform="translate(191.30,539.68) scale(0.76,1)" class="yt" font-size="11.9" text-anchor="end">4</text>
<line x1="192.90" y1="520.51" x2="195.10" y2="520.51" stroke="#111" stroke-width="1"/>
<text transform="translate(191.30,524.44) scale(0.76,1)" class="yt" font-size="11.9" text-anchor="end">8</text>
<line x1="205.03" y1="551.00" x2="205.03" y2="548.80" stroke="#111" stroke-width="0.9"/>
<line x1="217.17" y1="551.00" x2="217.17" y2="548.80" stroke="#111" stroke-width="0.9"/>
<line x1="229.30" y1="551.00" x2="229.30" y2="548.80" stroke="#111" stroke-width="0.9"/>
<line x1="241.43" y1="551.00" x2="241.43" y2="548.80" stroke="#111" stroke-width="0.9"/>
<line x1="253.57" y1="551.00" x2="253.57" y2="548.80" stroke="#111" stroke-width="0.9"/>
<line x1="265.70" y1="551.00" x2="265.70" y2="548.80" stroke="#111" stroke-width="0.9"/>
<line x1="277.83" y1="551.00" x2="277.83" y2="548.80" stroke="#111" stroke-width="0.9"/>
<line x1="289.97" y1="551.00" x2="289.97" y2="548.80" stroke="#111" stroke-width="0.9"/>
<line x1="302.10" y1="551.00" x2="302.10" y2="548.80" stroke="#111" stroke-width="0.9"/>
<line x1="314.23" y1="551.00" x2="314.23" y2="548.80" stroke="#111" stroke-width="0.9"/>
<line x1="326.37" y1="551.00" x2="326.37" y2="548.80" stroke="#111" stroke-width="0.9"/>
<line x1="192.90" y1="551.00" x2="338.50" y2="551.00" stroke="#111" stroke-width="1.2"/>
<path d="M192.9,551.0 L338.5,551.0" fill="none" stroke="#c03070" stroke-width="1.4" stroke-linejoin="round"/>
<path d="M192.9,551.0 L214.4,551.0 L215.0,550.7 L215.7,550.0 L221.4,537.8 L222.6,536.3 L223.2,535.9 L224.1,535.9 L226.3,537.0 L230.2,540.5 L232.9,543.7 L233.9,544.1 L234.5,544.0 L235.1,543.5 L240.8,532.2 L241.7,531.1 L242.3,530.8 L243.0,530.8 L244.2,531.7 L249.0,538.3 L249.9,539.0 L250.5,539.2 L251.1,539.1 L251.7,538.7 L253.3,536.5 L256.3,530.8 L257.2,529.9 L257.8,529.7 L258.4,530.1 L259.3,531.5 L268.1,549.4 L269.0,550.4 L271.2,551.0 L327.3,550.9 L333.0,549.0 L338.5,549.8" fill="none" stroke="#457a32" stroke-width="1.4" stroke-linejoin="round"/>
<line x1="192.90" y1="551.00" x2="215.35" y2="551.00" stroke="#457a32" stroke-width="1.45"/>
<line x1="269.34" y1="551.00" x2="328.79" y2="551.00" stroke="#457a32" stroke-width="1.45"/>
<line x1="192.90" y1="551.00" x2="338.50" y2="551.00" stroke="#000" stroke-opacity="0.3" stroke-width="1.3"/>
<line x1="197.80" y1="514.40" x2="212.00" y2="514.40" stroke="#c03070" stroke-width="1.5"/>
<text transform="translate(213.70,518.60) scale(0.64,1)" class="lg" font-size="10.45">O-2s</text>
<line x1="197.80" y1="526.20" x2="212.00" y2="526.20" stroke="#457a32" stroke-width="1.5"/>
<text transform="translate(213.70,530.40) scale(0.64,1)" class="lg" font-size="10.45">O-2p</text>
<line x1="192.90" y1="593.70" x2="195.10" y2="593.70" stroke="#111" stroke-width="1"/>
<text transform="translate(191.30,597.63) scale(0.76,1)" class="yt" font-size="11.9" text-anchor="end">0</text>
<line x1="192.90" y1="577.89" x2="195.10" y2="577.89" stroke="#111" stroke-width="1"/>
<text transform="translate(191.30,581.81) scale(0.76,1)" class="yt" font-size="11.9" text-anchor="end">4</text>
<line x1="192.90" y1="562.07" x2="195.10" y2="562.07" stroke="#111" stroke-width="1"/>
<text transform="translate(191.30,566.00) scale(0.76,1)" class="yt" font-size="11.9" text-anchor="end">8</text>
<line x1="205.03" y1="593.70" x2="205.03" y2="591.50" stroke="#111" stroke-width="0.9"/>
<line x1="217.17" y1="593.70" x2="217.17" y2="591.50" stroke="#111" stroke-width="0.9"/>
<line x1="229.30" y1="593.70" x2="229.30" y2="591.50" stroke="#111" stroke-width="0.9"/>
<line x1="241.43" y1="593.70" x2="241.43" y2="591.50" stroke="#111" stroke-width="0.9"/>
<line x1="253.57" y1="593.70" x2="253.57" y2="591.50" stroke="#111" stroke-width="0.9"/>
<line x1="265.70" y1="593.70" x2="265.70" y2="591.50" stroke="#111" stroke-width="0.9"/>
<line x1="277.83" y1="593.70" x2="277.83" y2="591.50" stroke="#111" stroke-width="0.9"/>
<line x1="289.97" y1="593.70" x2="289.97" y2="591.50" stroke="#111" stroke-width="0.9"/>
<line x1="302.10" y1="593.70" x2="302.10" y2="591.50" stroke="#111" stroke-width="0.9"/>
<line x1="314.23" y1="593.70" x2="314.23" y2="591.50" stroke="#111" stroke-width="0.9"/>
<line x1="326.37" y1="593.70" x2="326.37" y2="591.50" stroke="#111" stroke-width="0.9"/>
<path d="M192.9,593.7 L214.4,593.7 L215.0,593.4 L215.7,592.6 L222.0,574.1 L222.6,572.9 L223.2,572.3 L223.8,572.1 L224.8,572.5 L229.9,579.2 L232.3,583.1 L232.9,583.6 L233.5,583.9 L233.9,583.8 L234.5,583.2 L238.1,573.5 L240.5,569.1 L241.4,568.2 L242.0,567.9 L242.6,568.0 L243.6,568.8 L248.7,578.3 L249.6,579.3 L250.2,579.6 L250.8,579.5 L251.7,578.8 L256.3,571.6 L257.2,570.8 L257.8,570.7 L258.4,571.1 L259.3,572.6 L268.1,591.9 L268.7,592.8 L269.6,593.4 L308.5,593.4 L313.0,592.0 L314.5,590.6 L318.5,585.5 L322.4,582.0 L324.2,579.4 L325.2,577.2 L327.9,566.3 L329.7,561.9 L330.6,560.6 L331.2,560.2 L331.8,560.3 L333.3,561.3 L336.4,565.0 L338.2,568.2 L338.5,568.6" fill="none" stroke="#2a2458" stroke-width="1.4" stroke-linejoin="round"/>
<line x1="192.90" y1="593.70" x2="215.35" y2="593.70" stroke="#2a2458" stroke-width="1.45"/>
<line x1="269.34" y1="593.70" x2="309.38" y2="593.70" stroke="#2a2458" stroke-width="1.45"/>
<line x1="192.90" y1="593.70" x2="338.50" y2="593.70" stroke="#000" stroke-opacity="0.3" stroke-width="1.3"/>
<line x1="197.80" y1="556.90" x2="212.00" y2="556.90" stroke="#2a2458" stroke-width="1.5"/>
<text transform="translate(213.70,561.10) scale(0.64,1)" class="lg" font-size="10.45">CaZrO<tspan font-size="6" dy="1.7">3</tspan></text>
<rect x="192.90" y="423.20" width="145.60" height="170.50" fill="none" stroke="#000" stroke-width="1.3"/>
<line x1="265.70" y1="423.20" x2="265.70" y2="593.70" stroke="#b84c5a" stroke-width="1.45" stroke-dasharray="5.8 5.3" stroke-dashoffset="7.30"/>
<text transform="translate(192.30,607.80) scale(0.76,1)" class="xt" font-size="11.9" text-anchor="middle">-6</text>
<text transform="translate(216.57,607.80) scale(0.76,1)" class="xt" font-size="11.9" text-anchor="middle">-4</text>
<text transform="translate(240.83,607.80) scale(0.76,1)" class="xt" font-size="11.9" text-anchor="middle">-2</text>
<text transform="translate(265.70,607.80) scale(0.76,1)" class="xt" font-size="11.9" text-anchor="middle">0</text>
<text transform="translate(289.97,607.80) scale(0.76,1)" class="xt" font-size="11.9" text-anchor="middle">2</text>
<text transform="translate(314.23,607.80) scale(0.76,1)" class="xt" font-size="11.9" text-anchor="middle">4</text>
<text transform="translate(338.50,607.80) scale(0.76,1)" class="xt" font-size="11.9" text-anchor="middle">6</text>
<text transform="translate(266.00,620.00) scale(0.78,1)" class="xl" font-size="11.8" text-anchor="middle">Energy, E (eV)</text>
<text transform="translate(304.00,436.10) scale(0.8,1)" class="pl" font-size="12.5" text-anchor="middle">(h)</text>
<line x1="366.50" y1="466.10" x2="368.70" y2="466.10" stroke="#111" stroke-width="1"/>
<text transform="translate(364.90,469.86) scale(0.8,1)" class="yt" font-size="11.4" text-anchor="end">0.0</text>
<line x1="366.50" y1="448.52" x2="368.70" y2="448.52" stroke="#111" stroke-width="1"/>
<text transform="translate(364.90,452.28) scale(0.8,1)" class="yt" font-size="11.4" text-anchor="end">0.3</text>
<line x1="366.50" y1="430.93" x2="368.70" y2="430.93" stroke="#111" stroke-width="1"/>
<text transform="translate(364.90,434.70) scale(0.8,1)" class="yt" font-size="11.4" text-anchor="end">0.6</text>
<line x1="378.98" y1="466.10" x2="378.98" y2="463.90" stroke="#111" stroke-width="0.9"/>
<line x1="391.47" y1="466.10" x2="391.47" y2="463.90" stroke="#111" stroke-width="0.9"/>
<line x1="403.95" y1="466.10" x2="403.95" y2="463.90" stroke="#111" stroke-width="0.9"/>
<line x1="416.43" y1="466.10" x2="416.43" y2="463.90" stroke="#111" stroke-width="0.9"/>
<line x1="428.92" y1="466.10" x2="428.92" y2="463.90" stroke="#111" stroke-width="0.9"/>
<line x1="441.40" y1="466.10" x2="441.40" y2="463.90" stroke="#111" stroke-width="0.9"/>
<line x1="453.88" y1="466.10" x2="453.88" y2="463.90" stroke="#111" stroke-width="0.9"/>
<line x1="466.37" y1="466.10" x2="466.37" y2="463.90" stroke="#111" stroke-width="0.9"/>
<line x1="478.85" y1="466.10" x2="478.85" y2="463.90" stroke="#111" stroke-width="0.9"/>
<line x1="491.33" y1="466.10" x2="491.33" y2="463.90" stroke="#111" stroke-width="0.9"/>
<line x1="503.82" y1="466.10" x2="503.82" y2="463.90" stroke="#111" stroke-width="0.9"/>
<line x1="366.50" y1="466.10" x2="516.30" y2="466.10" stroke="#111" stroke-width="1.2"/>
<path d="M366.5,466.1 L392.7,466.0 L399.0,462.7 L402.7,460.3 L403.6,460.1 L404.3,460.3 L408.3,465.0 L408.9,465.4 L420.8,462.3 L422.4,462.5 L429.5,465.9 L492.9,466.0 L497.3,464.1 L502.3,463.9 L502.9,463.6 L503.5,462.7 L508.2,451.2 L509.1,449.7 L511.0,448.5 L511.6,447.6 L512.2,445.8 L514.1,436.7 L515.4,433.2 L516.0,432.1 L516.3,431.8" fill="none" stroke="#2a2458" stroke-width="1.4" stroke-linejoin="round"/>
<path d="M366.5,466.1 L516.3,466.1" fill="none" stroke="#a83cb8" stroke-width="1.4" stroke-linejoin="round"/>
<line x1="366.50" y1="466.10" x2="401.14" y2="466.10" stroke="#a83cb8" stroke-width="1.45"/>
<line x1="419.55" y1="466.10" x2="516.30" y2="466.10" stroke="#a83cb8" stroke-width="1.45"/>
<line x1="366.50" y1="466.10" x2="516.30" y2="466.10" stroke="#000" stroke-opacity="0.3" stroke-width="1.3"/>
<line x1="371.80" y1="429.90" x2="386.20" y2="429.90" stroke="#2a2458" stroke-width="1.5"/>
<text transform="translate(387.90,433.86) scale(0.61,1)" class="lg" font-size="11.0">Sr-6s</text>
<line x1="371.80" y1="441.50" x2="386.20" y2="441.50" stroke="#a83cb8" stroke-width="1.5"/>
<text transform="translate(387.90,445.46) scale(0.61,1)" class="lg" font-size="11.0">Sr-5p</text>
<line x1="366.50" y1="508.50" x2="368.70" y2="508.50" stroke="#111" stroke-width="1"/>
<text transform="translate(364.90,512.26) scale(0.8,1)" class="yt" font-size="11.4" text-anchor="end">0.0</text>
<line x1="366.50" y1="492.80" x2="368.70" y2="492.80" stroke="#111" stroke-width="1"/>
<text transform="translate(364.90,496.56) scale(0.8,1)" class="yt" font-size="11.4" text-anchor="end">1.5</text>
<line x1="366.50" y1="477.09" x2="368.70" y2="477.09" stroke="#111" stroke-width="1"/>
<text transform="translate(364.90,480.85) scale(0.8,1)" class="yt" font-size="11.4" text-anchor="end">3.0</text>
<line x1="378.98" y1="508.50" x2="378.98" y2="506.30" stroke="#111" stroke-width="0.9"/>
<line x1="391.47" y1="508.50" x2="391.47" y2="506.30" stroke="#111" stroke-width="0.9"/>
<line x1="403.95" y1="508.50" x2="403.95" y2="506.30" stroke="#111" stroke-width="0.9"/>
<line x1="416.43" y1="508.50" x2="416.43" y2="506.30" stroke="#111" stroke-width="0.9"/>
<line x1="428.92" y1="508.50" x2="428.92" y2="506.30" stroke="#111" stroke-width="0.9"/>
<line x1="441.40" y1="508.50" x2="441.40" y2="506.30" stroke="#111" stroke-width="0.9"/>
<line x1="453.88" y1="508.50" x2="453.88" y2="506.30" stroke="#111" stroke-width="0.9"/>
<line x1="466.37" y1="508.50" x2="466.37" y2="506.30" stroke="#111" stroke-width="0.9"/>
<line x1="478.85" y1="508.50" x2="478.85" y2="506.30" stroke="#111" stroke-width="0.9"/>
<line x1="491.33" y1="508.50" x2="491.33" y2="506.30" stroke="#111" stroke-width="0.9"/>
<line x1="503.82" y1="508.50" x2="503.82" y2="506.30" stroke="#111" stroke-width="0.9"/>
<line x1="366.50" y1="508.50" x2="516.30" y2="508.50" stroke="#111" stroke-width="1.2"/>
<path d="M366.5,508.5 L516.3,508.0" fill="none" stroke="#70409a" stroke-width="1.4" stroke-linejoin="round"/>
<path d="M366.5,508.5 L393.7,508.2 L401.1,506.4 L408.0,507.4 L417.1,504.9 L418.3,505.0 L422.4,507.3 L516.3,507.7" fill="none" stroke="#b07040" stroke-width="1.4" stroke-linejoin="round"/>
<path d="M366.5,508.5 L390.8,508.4 L391.5,508.1 L392.1,507.4 L397.4,496.1 L398.0,495.3 L398.3,495.1 L398.6,495.1 L399.3,495.4 L402.1,499.3 L409.3,502.8 L410.8,502.9 L415.5,500.7 L416.1,500.6 L416.7,500.8 L417.7,501.7 L420.2,505.2 L422.4,507.0 L480.7,508.4 L487.0,505.3 L489.1,504.6 L489.8,504.2 L490.4,503.4 L493.2,496.8 L496.0,492.9 L497.3,492.0 L497.9,491.9 L498.5,492.1 L499.4,493.2 L502.6,498.8 L505.4,502.2 L506.3,502.7 L506.6,502.8 L506.9,502.6 L507.2,502.3 L507.9,500.9 L510.7,488.1 L512.6,476.9 L513.2,474.8 L513.5,474.4 L513.8,474.2 L514.1,474.4 L514.7,475.2 L516.3,479.8" fill="none" stroke="#a455d0" stroke-width="1.4" stroke-linejoin="round"/>
<line x1="366.50" y1="508.50" x2="391.78" y2="508.50" stroke="#a455d0" stroke-width="1.45"/>
<line x1="433.60" y1="508.50" x2="481.97" y2="508.50" stroke="#a455d0" stroke-width="1.45"/>
<line x1="366.50" y1="508.50" x2="516.30" y2="508.50" stroke="#000" stroke-opacity="0.3" stroke-width="1.3"/>
<line x1="371.80" y1="472.90" x2="386.20" y2="472.90" stroke="#70409a" stroke-width="1.5"/>
<text transform="translate(387.90,476.86) scale(0.61,1)" class="lg" font-size="11.0">Zr-5s</text>
<line x1="406.40" y1="472.90" x2="420.80" y2="472.90" stroke="#b07040" stroke-width="1.5"/>
<text transform="translate(422.50,476.86) scale(0.61,1)" class="lg" font-size="11.0">Zr-4p</text>
<line x1="371.80" y1="484.50" x2="386.20" y2="484.50" stroke="#a455d0" stroke-width="1.5"/>
<text transform="translate(387.90,488.46) scale(0.61,1)" class="lg" font-size="11.0">Zr-4d</text>
<line x1="366.50" y1="551.00" x2="368.70" y2="551.00" stroke="#111" stroke-width="1"/>
<text transform="translate(364.90,554.76) scale(0.8,1)" class="yt" font-size="11.4" text-anchor="end">0</text>
<line x1="366.50" y1="535.45" x2="368.70" y2="535.45" stroke="#111" stroke-width="1"/>
<text transform="translate(364.90,539.21) scale(0.8,1)" class="yt" font-size="11.4" text-anchor="end">3</text>
<line x1="366.50" y1="519.90" x2="368.70" y2="519.90" stroke="#111" stroke-width="1"/>
<text transform="translate(364.90,523.66) scale(0.8,1)" class="yt" font-size="11.4" text-anchor="end">6</text>
<line x1="378.98" y1="551.00" x2="378.98" y2="548.80" stroke="#111" stroke-width="0.9"/>
<line x1="391.47" y1="551.00" x2="391.47" y2="548.80" stroke="#111" stroke-width="0.9"/>
<line x1="403.95" y1="551.00" x2="403.95" y2="548.80" stroke="#111" stroke-width="0.9"/>
<line x1="416.43" y1="551.00" x2="416.43" y2="548.80" stroke="#111" stroke-width="0.9"/>
<line x1="428.92" y1="551.00" x2="428.92" y2="548.80" stroke="#111" stroke-width="0.9"/>
<line x1="441.40" y1="551.00" x2="441.40" y2="548.80" stroke="#111" stroke-width="0.9"/>
<line x1="453.88" y1="551.00" x2="453.88" y2="548.80" stroke="#111" stroke-width="0.9"/>
<line x1="466.37" y1="551.00" x2="466.37" y2="548.80" stroke="#111" stroke-width="0.9"/>
<line x1="478.85" y1="551.00" x2="478.85" y2="548.80" stroke="#111" stroke-width="0.9"/>
<line x1="491.33" y1="551.00" x2="491.33" y2="548.80" stroke="#111" stroke-width="0.9"/>
<line x1="503.82" y1="551.00" x2="503.82" y2="548.80" stroke="#111" stroke-width="0.9"/>
<line x1="366.50" y1="551.00" x2="516.30" y2="551.00" stroke="#111" stroke-width="1.2"/>
<path d="M366.5,551.0 L516.3,551.0" fill="none" stroke="#c03070" stroke-width="1.4" stroke-linejoin="round"/>
<path d="M366.5,551.0 L390.5,551.0 L391.2,550.7 L391.8,549.8 L397.4,531.3 L398.0,529.9 L398.6,529.1 L399.0,529.0 L399.3,529.1 L399.9,529.8 L402.4,535.2 L403.0,536.0 L409.3,537.3 L409.9,537.2 L410.5,536.5 L415.2,525.2 L416.4,523.2 L417.1,522.7 L417.7,522.7 L418.3,523.0 L419.6,524.6 L423.3,531.7 L424.2,532.7 L424.9,532.9 L425.5,532.7 L426.1,532.1 L427.7,529.3 L431.4,520.5 L432.3,519.2 L433.0,518.8 L433.3,518.8 L433.6,519.0 L434.2,520.0 L440.5,542.0 L443.3,548.8 L444.2,550.2 L444.8,550.8 L506.6,550.9 L507.9,550.3 L511.3,547.3 L512.2,546.9 L513.8,547.1 L516.3,548.3" fill="none" stroke="#457a32" stroke-width="1.4" stroke-linejoin="round"/>
<line x1="366.50" y1="551.00" x2="391.47" y2="551.00" stroke="#457a32" stroke-width="1.45"/>
<line x1="444.52" y1="551.00" x2="507.87" y2="551.00" stroke="#457a32" stroke-width="1.45"/>
<line x1="366.50" y1="551.00" x2="516.30" y2="551.00" stroke="#000" stroke-opacity="0.3" stroke-width="1.3"/>
<line x1="460.40" y1="515.50" x2="474.80" y2="515.50" stroke="#c03070" stroke-width="1.5"/>
<text transform="translate(476.50,519.46) scale(0.61,1)" class="lg" font-size="11.0">O-2s</text>
<line x1="460.40" y1="526.80" x2="474.80" y2="526.80" stroke="#457a32" stroke-width="1.5"/>
<text transform="translate(476.50,530.76) scale(0.61,1)" class="lg" font-size="11.0">O-2p</text>
<line x1="366.50" y1="593.70" x2="368.70" y2="593.70" stroke="#111" stroke-width="1"/>
<text transform="translate(364.90,597.46) scale(0.8,1)" class="yt" font-size="11.4" text-anchor="end">0</text>
<line x1="366.50" y1="578.03" x2="368.70" y2="578.03" stroke="#111" stroke-width="1"/>
<text transform="translate(364.90,581.79) scale(0.8,1)" class="yt" font-size="11.4" text-anchor="end">4</text>
<line x1="366.50" y1="562.36" x2="368.70" y2="562.36" stroke="#111" stroke-width="1"/>
<text transform="translate(364.90,566.12) scale(0.8,1)" class="yt" font-size="11.4" text-anchor="end">8</text>
<line x1="378.98" y1="593.70" x2="378.98" y2="591.50" stroke="#111" stroke-width="0.9"/>
<line x1="391.47" y1="593.70" x2="391.47" y2="591.50" stroke="#111" stroke-width="0.9"/>
<line x1="403.95" y1="593.70" x2="403.95" y2="591.50" stroke="#111" stroke-width="0.9"/>
<line x1="416.43" y1="593.70" x2="416.43" y2="591.50" stroke="#111" stroke-width="0.9"/>
<line x1="428.92" y1="593.70" x2="428.92" y2="591.50" stroke="#111" stroke-width="0.9"/>
<line x1="441.40" y1="593.70" x2="441.40" y2="591.50" stroke="#111" stroke-width="0.9"/>
<line x1="453.88" y1="593.70" x2="453.88" y2="591.50" stroke="#111" stroke-width="0.9"/>
<line x1="466.37" y1="593.70" x2="466.37" y2="591.50" stroke="#111" stroke-width="0.9"/>
<line x1="478.85" y1="593.70" x2="478.85" y2="591.50" stroke="#111" stroke-width="0.9"/>
<line x1="491.33" y1="593.70" x2="491.33" y2="591.50" stroke="#111" stroke-width="0.9"/>
<line x1="503.82" y1="593.70" x2="503.82" y2="591.50" stroke="#111" stroke-width="0.9"/>
<path d="M366.5,593.7 L390.5,593.7 L391.2,593.4 L391.8,592.6 L397.7,573.7 L398.3,572.5 L398.6,572.1 L399.0,572.0 L399.3,572.1 L399.9,572.7 L402.4,577.7 L403.0,578.5 L408.9,580.6 L409.6,580.7 L409.9,580.6 L410.5,579.9 L413.6,572.0 L415.5,568.6 L416.1,567.9 L416.7,567.5 L417.4,567.5 L418.3,568.2 L424.2,578.3 L425.2,579.2 L425.8,579.5 L426.4,579.4 L427.0,578.9 L428.3,576.9 L431.4,570.2 L432.3,568.9 L433.0,568.4 L433.3,568.4 L433.9,568.7 L436.1,572.0 L443.0,589.6 L444.5,592.2 L445.8,593.3 L447.3,593.7 L487.0,592.6 L491.0,591.1 L496.3,586.5 L497.9,585.9 L499.4,586.1 L505.7,589.8 L506.6,589.9 L506.9,589.8 L507.2,589.6 L507.9,588.7 L512.9,572.4 L513.5,571.0 L513.8,570.6 L514.1,570.4 L514.4,570.4 L515.1,570.8 L516.3,572.5" fill="none" stroke="#2a2458" stroke-width="1.4" stroke-linejoin="round"/>
<line x1="366.50" y1="593.70" x2="391.47" y2="593.70" stroke="#2a2458" stroke-width="1.45"/>
<line x1="445.77" y1="593.70" x2="483.53" y2="593.70" stroke="#2a2458" stroke-width="1.45"/>
<line x1="366.50" y1="593.70" x2="516.30" y2="593.70" stroke="#000" stroke-opacity="0.3" stroke-width="1.3"/>
<line x1="371.80" y1="556.90" x2="386.20" y2="556.90" stroke="#2a2458" stroke-width="1.5"/>
<text transform="translate(387.90,560.86) scale(0.61,1)" class="lg" font-size="11.0">SrZrO<tspan font-size="6" dy="1.7">3</tspan></text>
<rect x="366.50" y="423.90" width="149.80" height="169.80" fill="none" stroke="#000" stroke-width="1.3"/>
<line x1="441.40" y1="423.90" x2="441.40" y2="593.70" stroke="#b84c5a" stroke-width="1.45" stroke-dasharray="5.8 5.3" stroke-dashoffset="7.30"/>
<text transform="translate(365.90,606.50) scale(0.8,1)" class="xt" font-size="11.4" text-anchor="middle">-6</text>
<text transform="translate(390.87,606.50) scale(0.8,1)" class="xt" font-size="11.4" text-anchor="middle">-4</text>
<text transform="translate(415.83,606.50) scale(0.8,1)" class="xt" font-size="11.4" text-anchor="middle">-2</text>
<text transform="translate(441.40,606.50) scale(0.8,1)" class="xt" font-size="11.4" text-anchor="middle">0</text>
<text transform="translate(466.37,606.50) scale(0.8,1)" class="xt" font-size="11.4" text-anchor="middle">2</text>
<text transform="translate(491.33,606.50) scale(0.8,1)" class="xt" font-size="11.4" text-anchor="middle">4</text>
<text transform="translate(516.30,606.50) scale(0.8,1)" class="xt" font-size="11.4" text-anchor="middle">6</text>
<text transform="translate(441.80,617.60) scale(0.78,1)" class="xl" font-size="12.2" text-anchor="middle">Energy, E (eV)</text>
<text transform="translate(469.90,436.30) scale(0.8,1)" class="pl" font-size="12.3" text-anchor="middle">(i)</text>
</svg></body></html>
